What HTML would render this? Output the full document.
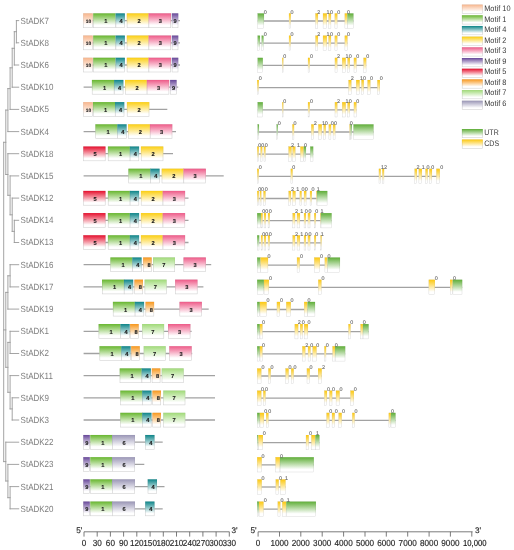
<!DOCTYPE html>
<html><head><meta charset="utf-8"><title>StADK motif and gene structure</title>
<style>html,body{margin:0;padding:0;background:#fff}svg{display:block}text{font-family:"Liberation Sans",sans-serif;text-rendering:geometricPrecision}</style></head><body>
<svg width="514" height="550" viewBox="0 0 514 550">
<defs>
<linearGradient id="m10" x1="0" y1="0" x2="0" y2="1"><stop offset="0" stop-color="#f7b58c"/><stop offset="0.82" stop-color="#f7b58c" stop-opacity="0"/><stop offset="1" stop-color="#f7b58c" stop-opacity="0"/></linearGradient>
<linearGradient id="m1" x1="0" y1="0" x2="0" y2="1"><stop offset="0" stop-color="#68b72f"/><stop offset="0.82" stop-color="#68b72f" stop-opacity="0"/><stop offset="1" stop-color="#68b72f" stop-opacity="0"/></linearGradient>
<linearGradient id="m4" x1="0" y1="0" x2="0" y2="1"><stop offset="0" stop-color="#0d8589"/><stop offset="0.82" stop-color="#0d8589" stop-opacity="0"/><stop offset="1" stop-color="#0d8589" stop-opacity="0"/></linearGradient>
<linearGradient id="m2" x1="0" y1="0" x2="0" y2="1"><stop offset="0" stop-color="#fccf12"/><stop offset="0.82" stop-color="#fccf12" stop-opacity="0"/><stop offset="1" stop-color="#fccf12" stop-opacity="0"/></linearGradient>
<linearGradient id="m3" x1="0" y1="0" x2="0" y2="1"><stop offset="0" stop-color="#ee5a88"/><stop offset="0.82" stop-color="#ee5a88" stop-opacity="0"/><stop offset="1" stop-color="#ee5a88" stop-opacity="0"/></linearGradient>
<linearGradient id="m9" x1="0" y1="0" x2="0" y2="1"><stop offset="0" stop-color="#68489a"/><stop offset="0.82" stop-color="#68489a" stop-opacity="0"/><stop offset="1" stop-color="#68489a" stop-opacity="0"/></linearGradient>
<linearGradient id="m5" x1="0" y1="0" x2="0" y2="1"><stop offset="0" stop-color="#e60f2d"/><stop offset="0.82" stop-color="#e60f2d" stop-opacity="0"/><stop offset="1" stop-color="#e60f2d" stop-opacity="0"/></linearGradient>
<linearGradient id="m8" x1="0" y1="0" x2="0" y2="1"><stop offset="0" stop-color="#f8981d"/><stop offset="0.82" stop-color="#f8981d" stop-opacity="0"/><stop offset="1" stop-color="#f8981d" stop-opacity="0"/></linearGradient>
<linearGradient id="m7" x1="0" y1="0" x2="0" y2="1"><stop offset="0" stop-color="#a0da78"/><stop offset="0.82" stop-color="#a0da78" stop-opacity="0"/><stop offset="1" stop-color="#a0da78" stop-opacity="0"/></linearGradient>
<linearGradient id="m6" x1="0" y1="0" x2="0" y2="1"><stop offset="0" stop-color="#9a96b6"/><stop offset="0.82" stop-color="#9a96b6" stop-opacity="0"/><stop offset="1" stop-color="#9a96b6" stop-opacity="0"/></linearGradient>
<linearGradient id="gU" x1="0" y1="0" x2="0" y2="1"><stop offset="0" stop-color="#5fae38"/><stop offset="0.82" stop-color="#5fae38" stop-opacity="0"/><stop offset="1" stop-color="#5fae38" stop-opacity="0"/></linearGradient>
<linearGradient id="gC" x1="0" y1="0" x2="0" y2="1"><stop offset="0" stop-color="#fcc810"/><stop offset="0.82" stop-color="#fcc810" stop-opacity="0"/><stop offset="1" stop-color="#fcc810" stop-opacity="0"/></linearGradient>
</defs>
<rect width="514" height="550" fill="#fff"/>
<g stroke="#9a9a9a" stroke-width="0.9" fill="none" stroke-linecap="square">
<line x1="16.4" y1="20.6" x2="18.7" y2="20.6"/>
<line x1="16.4" y1="42.8" x2="18.7" y2="42.8"/>
<line x1="16.4" y1="20.6" x2="16.4" y2="42.8"/>
<line x1="14.3" y1="31.7" x2="16.4" y2="31.7"/>
<line x1="14.3" y1="65.0" x2="18.7" y2="65.0"/>
<line x1="14.3" y1="31.7" x2="14.3" y2="65.0"/>
<line x1="12.2" y1="48.3" x2="14.3" y2="48.3"/>
<line x1="12.2" y1="87.2" x2="18.7" y2="87.2"/>
<line x1="12.2" y1="48.3" x2="12.2" y2="87.2"/>
<line x1="10.1" y1="67.8" x2="12.2" y2="67.8"/>
<line x1="10.1" y1="109.4" x2="18.7" y2="109.4"/>
<line x1="10.1" y1="67.8" x2="10.1" y2="109.4"/>
<line x1="7.9" y1="88.6" x2="10.1" y2="88.6"/>
<line x1="7.9" y1="131.6" x2="18.7" y2="131.6"/>
<line x1="7.9" y1="88.6" x2="7.9" y2="131.6"/>
<line x1="5.8" y1="110.1" x2="7.9" y2="110.1"/>
<line x1="7.9" y1="153.7" x2="18.7" y2="153.7"/>
<line x1="10.1" y1="175.9" x2="18.7" y2="175.9"/>
<line x1="12.2" y1="198.1" x2="18.7" y2="198.1"/>
<line x1="14.3" y1="220.3" x2="18.7" y2="220.3"/>
<line x1="14.3" y1="242.5" x2="18.7" y2="242.5"/>
<line x1="14.3" y1="220.3" x2="14.3" y2="242.5"/>
<line x1="12.2" y1="231.4" x2="14.3" y2="231.4"/>
<line x1="12.2" y1="198.1" x2="12.2" y2="231.4"/>
<line x1="10.1" y1="214.8" x2="12.2" y2="214.8"/>
<line x1="10.1" y1="175.9" x2="10.1" y2="214.8"/>
<line x1="7.9" y1="195.3" x2="10.1" y2="195.3"/>
<line x1="7.9" y1="153.7" x2="7.9" y2="195.3"/>
<line x1="5.8" y1="174.5" x2="7.9" y2="174.5"/>
<line x1="5.8" y1="110.1" x2="5.8" y2="174.5"/>
<line x1="3.7" y1="142.3" x2="5.8" y2="142.3"/>
<line x1="10.1" y1="264.7" x2="18.7" y2="264.7"/>
<line x1="10.1" y1="286.9" x2="18.7" y2="286.9"/>
<line x1="10.1" y1="264.7" x2="10.1" y2="286.9"/>
<line x1="7.9" y1="275.8" x2="10.1" y2="275.8"/>
<line x1="7.9" y1="309.1" x2="18.7" y2="309.1"/>
<line x1="7.9" y1="275.8" x2="7.9" y2="309.1"/>
<line x1="5.8" y1="292.4" x2="7.9" y2="292.4"/>
<line x1="10.1" y1="331.3" x2="18.7" y2="331.3"/>
<line x1="10.1" y1="353.5" x2="18.7" y2="353.5"/>
<line x1="10.1" y1="331.3" x2="10.1" y2="353.5"/>
<line x1="7.9" y1="342.4" x2="10.1" y2="342.4"/>
<line x1="10.1" y1="375.6" x2="18.7" y2="375.6"/>
<line x1="12.2" y1="397.8" x2="18.7" y2="397.8"/>
<line x1="12.2" y1="420.0" x2="18.7" y2="420.0"/>
<line x1="12.2" y1="397.8" x2="12.2" y2="420.0"/>
<line x1="10.1" y1="408.9" x2="12.2" y2="408.9"/>
<line x1="10.1" y1="375.6" x2="10.1" y2="408.9"/>
<line x1="7.9" y1="392.3" x2="10.1" y2="392.3"/>
<line x1="7.9" y1="342.4" x2="7.9" y2="392.3"/>
<line x1="5.8" y1="367.3" x2="7.9" y2="367.3"/>
<line x1="5.8" y1="292.4" x2="5.8" y2="367.3"/>
<line x1="3.7" y1="329.9" x2="5.8" y2="329.9"/>
<line x1="5.8" y1="442.2" x2="18.7" y2="442.2"/>
<line x1="7.9" y1="464.4" x2="18.7" y2="464.4"/>
<line x1="10.1" y1="486.6" x2="18.7" y2="486.6"/>
<line x1="10.1" y1="508.8" x2="18.7" y2="508.8"/>
<line x1="10.1" y1="486.6" x2="10.1" y2="508.8"/>
<line x1="7.9" y1="497.7" x2="10.1" y2="497.7"/>
<line x1="7.9" y1="464.4" x2="7.9" y2="497.7"/>
<line x1="5.8" y1="481.0" x2="7.9" y2="481.0"/>
<line x1="5.8" y1="442.2" x2="5.8" y2="481.0"/>
<line x1="3.7" y1="461.6" x2="5.8" y2="461.6"/>
<line x1="3.7" y1="142.3" x2="3.7" y2="461.6"/>
</g>
<g font-size="8" fill="#7d7d7d">
<text transform="translate(20.6,23.5) scale(1,1.12)">StADK7</text>
<text transform="translate(20.6,45.7) scale(1,1.12)">StADK8</text>
<text transform="translate(20.6,67.9) scale(1,1.12)">StADK6</text>
<text transform="translate(20.6,90.1) scale(1,1.12)">StADK10</text>
<text transform="translate(20.6,112.3) scale(1,1.12)">StADK5</text>
<text transform="translate(20.6,134.5) scale(1,1.12)">StADK4</text>
<text transform="translate(20.6,156.6) scale(1,1.12)">StADK18</text>
<text transform="translate(20.6,178.8) scale(1,1.12)">StADK15</text>
<text transform="translate(20.6,201.0) scale(1,1.12)">StADK12</text>
<text transform="translate(20.6,223.2) scale(1,1.12)">StADK14</text>
<text transform="translate(20.6,245.4) scale(1,1.12)">StADK13</text>
<text transform="translate(20.6,267.6) scale(1,1.12)">StADK16</text>
<text transform="translate(20.6,289.8) scale(1,1.12)">StADK17</text>
<text transform="translate(20.6,312.0) scale(1,1.12)">StADK19</text>
<text transform="translate(20.6,334.2) scale(1,1.12)">StADK1</text>
<text transform="translate(20.6,356.4) scale(1,1.12)">StADK2</text>
<text transform="translate(20.6,378.5) scale(1,1.12)">StADK11</text>
<text transform="translate(20.6,400.7) scale(1,1.12)">StADK9</text>
<text transform="translate(20.6,422.9) scale(1,1.12)">StADK3</text>
<text transform="translate(20.6,445.1) scale(1,1.12)">StADK22</text>
<text transform="translate(20.6,467.3) scale(1,1.12)">StADK23</text>
<text transform="translate(20.6,489.5) scale(1,1.12)">StADK21</text>
<text transform="translate(20.6,511.7) scale(1,1.12)">StADK20</text>
</g>
<g>
<line x1="83.6" y1="20.6" x2="180" y2="20.6" stroke="#a2a2a2" stroke-width="1.3"/>
<rect x="83.5" y="13.7" width="9.0" height="14.0" fill="#fff" stroke="#d2d2d2" stroke-width="0.6"/>
<rect x="83.20" y="13.35" width="9.60" height="14.3" fill="url(#m10)"/>
<text x="88.6" y="23.0" font-size="4.9" font-weight="bold" text-anchor="middle" fill="#1c1c1c" stroke="#1c1c1c" stroke-width="0.12">10</text>
<rect x="93.5" y="13.7" width="21.9" height="14.0" fill="#fff" stroke="#d2d2d2" stroke-width="0.6"/>
<rect x="93.20" y="13.35" width="22.50" height="14.3" fill="url(#m1)"/>
<text x="105.8" y="23.0" font-size="5.7" font-weight="bold" text-anchor="middle" fill="#1c1c1c" stroke="#1c1c1c" stroke-width="0.12">1</text>
<rect x="115.9" y="13.7" width="8.7" height="14.0" fill="#fff" stroke="#d2d2d2" stroke-width="0.6"/>
<rect x="115.60" y="13.35" width="9.30" height="14.3" fill="url(#m4)"/>
<text x="121.2" y="23.0" font-size="5.7" font-weight="bold" text-anchor="middle" fill="#1c1c1c" stroke="#1c1c1c" stroke-width="0.12">4</text>
<rect x="127.1" y="13.7" width="21.8" height="14.0" fill="#fff" stroke="#d2d2d2" stroke-width="0.6"/>
<rect x="126.80" y="13.35" width="22.40" height="14.3" fill="url(#m2)"/>
<text x="139.0" y="23.0" font-size="5.7" font-weight="bold" text-anchor="middle" fill="#1c1c1c" stroke="#1c1c1c" stroke-width="0.12">2</text>
<rect x="148.9" y="13.7" width="21.8" height="14.0" fill="#fff" stroke="#d2d2d2" stroke-width="0.6"/>
<rect x="148.60" y="13.35" width="22.40" height="14.3" fill="url(#m3)"/>
<text x="160.3" y="23.0" font-size="5.7" font-weight="bold" text-anchor="middle" fill="#1c1c1c" stroke="#1c1c1c" stroke-width="0.12">3</text>
<rect x="172.1" y="13.7" width="5.9" height="14.0" fill="#fff" stroke="#d2d2d2" stroke-width="0.6"/>
<rect x="171.80" y="13.35" width="6.50" height="14.3" fill="url(#m9)"/>
<text x="175.2" y="23.0" font-size="5.7" font-weight="bold" text-anchor="middle" fill="#1c1c1c" stroke="#1c1c1c" stroke-width="0.12">9</text>
<line x1="83.6" y1="42.8" x2="180" y2="42.8" stroke="#a2a2a2" stroke-width="1.3"/>
<rect x="83.5" y="35.8" width="9.0" height="14.0" fill="#fff" stroke="#d2d2d2" stroke-width="0.6"/>
<rect x="83.20" y="35.54" width="9.60" height="14.3" fill="url(#m10)"/>
<text x="88.6" y="45.2" font-size="4.9" font-weight="bold" text-anchor="middle" fill="#1c1c1c" stroke="#1c1c1c" stroke-width="0.12">10</text>
<rect x="93.5" y="35.8" width="21.9" height="14.0" fill="#fff" stroke="#d2d2d2" stroke-width="0.6"/>
<rect x="93.20" y="35.54" width="22.50" height="14.3" fill="url(#m1)"/>
<text x="105.8" y="45.2" font-size="5.7" font-weight="bold" text-anchor="middle" fill="#1c1c1c" stroke="#1c1c1c" stroke-width="0.12">1</text>
<rect x="115.9" y="35.8" width="8.7" height="14.0" fill="#fff" stroke="#d2d2d2" stroke-width="0.6"/>
<rect x="115.60" y="35.54" width="9.30" height="14.3" fill="url(#m4)"/>
<text x="121.2" y="45.2" font-size="5.7" font-weight="bold" text-anchor="middle" fill="#1c1c1c" stroke="#1c1c1c" stroke-width="0.12">4</text>
<rect x="127.1" y="35.8" width="21.8" height="14.0" fill="#fff" stroke="#d2d2d2" stroke-width="0.6"/>
<rect x="126.80" y="35.54" width="22.40" height="14.3" fill="url(#m2)"/>
<text x="139.0" y="45.2" font-size="5.7" font-weight="bold" text-anchor="middle" fill="#1c1c1c" stroke="#1c1c1c" stroke-width="0.12">2</text>
<rect x="148.9" y="35.8" width="21.8" height="14.0" fill="#fff" stroke="#d2d2d2" stroke-width="0.6"/>
<rect x="148.60" y="35.54" width="22.40" height="14.3" fill="url(#m3)"/>
<text x="160.3" y="45.2" font-size="5.7" font-weight="bold" text-anchor="middle" fill="#1c1c1c" stroke="#1c1c1c" stroke-width="0.12">3</text>
<rect x="172.1" y="35.8" width="5.9" height="14.0" fill="#fff" stroke="#d2d2d2" stroke-width="0.6"/>
<rect x="171.80" y="35.54" width="6.50" height="14.3" fill="url(#m9)"/>
<text x="175.2" y="45.2" font-size="5.7" font-weight="bold" text-anchor="middle" fill="#1c1c1c" stroke="#1c1c1c" stroke-width="0.12">9</text>
<line x1="83.6" y1="65.0" x2="180" y2="65.0" stroke="#a2a2a2" stroke-width="1.3"/>
<rect x="83.5" y="58.0" width="9.0" height="14.0" fill="#fff" stroke="#d2d2d2" stroke-width="0.6"/>
<rect x="83.20" y="57.73" width="9.60" height="14.3" fill="url(#m10)"/>
<text x="88.6" y="67.4" font-size="4.9" font-weight="bold" text-anchor="middle" fill="#1c1c1c" stroke="#1c1c1c" stroke-width="0.12">10</text>
<rect x="93.5" y="58.0" width="21.9" height="14.0" fill="#fff" stroke="#d2d2d2" stroke-width="0.6"/>
<rect x="93.20" y="57.73" width="22.50" height="14.3" fill="url(#m1)"/>
<text x="105.8" y="67.4" font-size="5.7" font-weight="bold" text-anchor="middle" fill="#1c1c1c" stroke="#1c1c1c" stroke-width="0.12">1</text>
<rect x="115.9" y="58.0" width="8.7" height="14.0" fill="#fff" stroke="#d2d2d2" stroke-width="0.6"/>
<rect x="115.60" y="57.73" width="9.30" height="14.3" fill="url(#m4)"/>
<text x="121.2" y="67.4" font-size="5.7" font-weight="bold" text-anchor="middle" fill="#1c1c1c" stroke="#1c1c1c" stroke-width="0.12">4</text>
<rect x="127.1" y="58.0" width="21.8" height="14.0" fill="#fff" stroke="#d2d2d2" stroke-width="0.6"/>
<rect x="126.80" y="57.73" width="22.40" height="14.3" fill="url(#m2)"/>
<text x="139.0" y="67.4" font-size="5.7" font-weight="bold" text-anchor="middle" fill="#1c1c1c" stroke="#1c1c1c" stroke-width="0.12">2</text>
<rect x="148.9" y="58.0" width="21.8" height="14.0" fill="#fff" stroke="#d2d2d2" stroke-width="0.6"/>
<rect x="148.60" y="57.73" width="22.40" height="14.3" fill="url(#m3)"/>
<text x="160.3" y="67.4" font-size="5.7" font-weight="bold" text-anchor="middle" fill="#1c1c1c" stroke="#1c1c1c" stroke-width="0.12">3</text>
<rect x="172.1" y="58.0" width="5.9" height="14.0" fill="#fff" stroke="#d2d2d2" stroke-width="0.6"/>
<rect x="171.80" y="57.73" width="6.50" height="14.3" fill="url(#m9)"/>
<text x="175.2" y="67.4" font-size="5.7" font-weight="bold" text-anchor="middle" fill="#1c1c1c" stroke="#1c1c1c" stroke-width="0.12">9</text>
<line x1="83.6" y1="87.2" x2="178.2" y2="87.2" stroke="#a2a2a2" stroke-width="1.3"/>
<rect x="92.2" y="80.2" width="21.9" height="14.0" fill="#fff" stroke="#d2d2d2" stroke-width="0.6"/>
<rect x="91.90" y="79.92" width="22.50" height="14.3" fill="url(#m1)"/>
<text x="104.5" y="89.6" font-size="5.7" font-weight="bold" text-anchor="middle" fill="#1c1c1c" stroke="#1c1c1c" stroke-width="0.12">1</text>
<rect x="114.4" y="80.2" width="8.7" height="14.0" fill="#fff" stroke="#d2d2d2" stroke-width="0.6"/>
<rect x="114.10" y="79.92" width="9.30" height="14.3" fill="url(#m4)"/>
<text x="119.7" y="89.6" font-size="5.7" font-weight="bold" text-anchor="middle" fill="#1c1c1c" stroke="#1c1c1c" stroke-width="0.12">4</text>
<rect x="125.3" y="80.2" width="21.8" height="14.0" fill="#fff" stroke="#d2d2d2" stroke-width="0.6"/>
<rect x="125.00" y="79.92" width="22.40" height="14.3" fill="url(#m2)"/>
<text x="137.2" y="89.6" font-size="5.7" font-weight="bold" text-anchor="middle" fill="#1c1c1c" stroke="#1c1c1c" stroke-width="0.12">2</text>
<rect x="147.1" y="80.2" width="21.8" height="14.0" fill="#fff" stroke="#d2d2d2" stroke-width="0.6"/>
<rect x="146.80" y="79.92" width="22.40" height="14.3" fill="url(#m3)"/>
<text x="158.5" y="89.6" font-size="5.7" font-weight="bold" text-anchor="middle" fill="#1c1c1c" stroke="#1c1c1c" stroke-width="0.12">3</text>
<rect x="170.4" y="80.2" width="5.9" height="14.0" fill="#fff" stroke="#d2d2d2" stroke-width="0.6"/>
<rect x="170.10" y="79.92" width="6.50" height="14.3" fill="url(#m9)"/>
<text x="173.5" y="89.6" font-size="5.7" font-weight="bold" text-anchor="middle" fill="#1c1c1c" stroke="#1c1c1c" stroke-width="0.12">9</text>
<line x1="83.6" y1="109.4" x2="167.3" y2="109.4" stroke="#a2a2a2" stroke-width="1.3"/>
<rect x="83.5" y="102.4" width="9.0" height="14.0" fill="#fff" stroke="#d2d2d2" stroke-width="0.6"/>
<rect x="83.20" y="102.11" width="9.60" height="14.3" fill="url(#m10)"/>
<text x="88.6" y="111.8" font-size="4.9" font-weight="bold" text-anchor="middle" fill="#1c1c1c" stroke="#1c1c1c" stroke-width="0.12">10</text>
<rect x="93.3" y="102.4" width="21.9" height="14.0" fill="#fff" stroke="#d2d2d2" stroke-width="0.6"/>
<rect x="93.00" y="102.11" width="22.50" height="14.3" fill="url(#m1)"/>
<text x="105.5" y="111.8" font-size="5.7" font-weight="bold" text-anchor="middle" fill="#1c1c1c" stroke="#1c1c1c" stroke-width="0.12">1</text>
<rect x="115.3" y="102.4" width="8.7" height="14.0" fill="#fff" stroke="#d2d2d2" stroke-width="0.6"/>
<rect x="115.00" y="102.11" width="9.30" height="14.3" fill="url(#m4)"/>
<text x="120.5" y="111.8" font-size="5.7" font-weight="bold" text-anchor="middle" fill="#1c1c1c" stroke="#1c1c1c" stroke-width="0.12">4</text>
<rect x="127.2" y="102.4" width="21.8" height="14.0" fill="#fff" stroke="#d2d2d2" stroke-width="0.6"/>
<rect x="126.90" y="102.11" width="22.40" height="14.3" fill="url(#m2)"/>
<text x="139.1" y="111.8" font-size="5.7" font-weight="bold" text-anchor="middle" fill="#1c1c1c" stroke="#1c1c1c" stroke-width="0.12">2</text>
<line x1="83.6" y1="131.6" x2="176" y2="131.6" stroke="#a2a2a2" stroke-width="1.3"/>
<rect x="95.7" y="124.6" width="21.9" height="14.0" fill="#fff" stroke="#d2d2d2" stroke-width="0.6"/>
<rect x="95.40" y="124.30" width="22.50" height="14.3" fill="url(#m1)"/>
<text x="108.0" y="134.0" font-size="5.7" font-weight="bold" text-anchor="middle" fill="#1c1c1c" stroke="#1c1c1c" stroke-width="0.12">1</text>
<rect x="117.6" y="124.6" width="8.7" height="14.0" fill="#fff" stroke="#d2d2d2" stroke-width="0.6"/>
<rect x="117.30" y="124.30" width="9.30" height="14.3" fill="url(#m4)"/>
<text x="122.8" y="134.0" font-size="5.7" font-weight="bold" text-anchor="middle" fill="#1c1c1c" stroke="#1c1c1c" stroke-width="0.12">4</text>
<rect x="128.4" y="124.6" width="21.8" height="14.0" fill="#fff" stroke="#d2d2d2" stroke-width="0.6"/>
<rect x="128.10" y="124.30" width="22.40" height="14.3" fill="url(#m2)"/>
<text x="140.3" y="134.0" font-size="5.7" font-weight="bold" text-anchor="middle" fill="#1c1c1c" stroke="#1c1c1c" stroke-width="0.12">2</text>
<rect x="150.2" y="124.6" width="21.8" height="14.0" fill="#fff" stroke="#d2d2d2" stroke-width="0.6"/>
<rect x="149.90" y="124.30" width="22.40" height="14.3" fill="url(#m3)"/>
<text x="161.6" y="134.0" font-size="5.7" font-weight="bold" text-anchor="middle" fill="#1c1c1c" stroke="#1c1c1c" stroke-width="0.12">3</text>
<line x1="83.6" y1="153.7" x2="173" y2="153.7" stroke="#a2a2a2" stroke-width="1.3"/>
<rect x="83.6" y="146.8" width="21.6" height="14.0" fill="#fff" stroke="#d2d2d2" stroke-width="0.6"/>
<rect x="83.30" y="146.49" width="22.20" height="14.3" fill="url(#m5)"/>
<text x="95.1" y="156.1" font-size="5.7" font-weight="bold" text-anchor="middle" fill="#1c1c1c" stroke="#1c1c1c" stroke-width="0.12">5</text>
<rect x="108.2" y="146.8" width="21.9" height="14.0" fill="#fff" stroke="#d2d2d2" stroke-width="0.6"/>
<rect x="107.90" y="146.49" width="22.50" height="14.3" fill="url(#m1)"/>
<text x="120.5" y="156.1" font-size="5.7" font-weight="bold" text-anchor="middle" fill="#1c1c1c" stroke="#1c1c1c" stroke-width="0.12">1</text>
<rect x="130.1" y="146.8" width="8.7" height="14.0" fill="#fff" stroke="#d2d2d2" stroke-width="0.6"/>
<rect x="129.80" y="146.49" width="9.30" height="14.3" fill="url(#m4)"/>
<text x="135.3" y="156.1" font-size="5.7" font-weight="bold" text-anchor="middle" fill="#1c1c1c" stroke="#1c1c1c" stroke-width="0.12">4</text>
<rect x="141.2" y="146.8" width="21.8" height="14.0" fill="#fff" stroke="#d2d2d2" stroke-width="0.6"/>
<rect x="140.90" y="146.49" width="22.40" height="14.3" fill="url(#m2)"/>
<text x="153.1" y="156.1" font-size="5.7" font-weight="bold" text-anchor="middle" fill="#1c1c1c" stroke="#1c1c1c" stroke-width="0.12">2</text>
<line x1="83.6" y1="175.9" x2="223.7" y2="175.9" stroke="#a2a2a2" stroke-width="1.3"/>
<rect x="128.7" y="169.0" width="21.9" height="14.0" fill="#fff" stroke="#d2d2d2" stroke-width="0.6"/>
<rect x="128.40" y="168.68" width="22.50" height="14.3" fill="url(#m1)"/>
<text x="140.9" y="178.3" font-size="5.7" font-weight="bold" text-anchor="middle" fill="#1c1c1c" stroke="#1c1c1c" stroke-width="0.12">1</text>
<rect x="150.6" y="169.0" width="8.7" height="14.0" fill="#fff" stroke="#d2d2d2" stroke-width="0.6"/>
<rect x="150.30" y="168.68" width="9.30" height="14.3" fill="url(#m4)"/>
<text x="155.8" y="178.3" font-size="5.7" font-weight="bold" text-anchor="middle" fill="#1c1c1c" stroke="#1c1c1c" stroke-width="0.12">4</text>
<rect x="162.0" y="169.0" width="21.8" height="14.0" fill="#fff" stroke="#d2d2d2" stroke-width="0.6"/>
<rect x="161.70" y="168.68" width="22.40" height="14.3" fill="url(#m2)"/>
<text x="173.9" y="178.3" font-size="5.7" font-weight="bold" text-anchor="middle" fill="#1c1c1c" stroke="#1c1c1c" stroke-width="0.12">2</text>
<rect x="183.8" y="169.0" width="21.8" height="14.0" fill="#fff" stroke="#d2d2d2" stroke-width="0.6"/>
<rect x="183.50" y="168.68" width="22.40" height="14.3" fill="url(#m3)"/>
<text x="195.2" y="178.3" font-size="5.7" font-weight="bold" text-anchor="middle" fill="#1c1c1c" stroke="#1c1c1c" stroke-width="0.12">3</text>
<line x1="83.6" y1="198.1" x2="188.5" y2="198.1" stroke="#a2a2a2" stroke-width="1.3"/>
<rect x="83.6" y="191.2" width="21.6" height="14.0" fill="#fff" stroke="#d2d2d2" stroke-width="0.6"/>
<rect x="83.30" y="190.87" width="22.20" height="14.3" fill="url(#m5)"/>
<text x="95.1" y="200.5" font-size="5.7" font-weight="bold" text-anchor="middle" fill="#1c1c1c" stroke="#1c1c1c" stroke-width="0.12">5</text>
<rect x="108.2" y="191.2" width="21.9" height="14.0" fill="#fff" stroke="#d2d2d2" stroke-width="0.6"/>
<rect x="107.90" y="190.87" width="22.50" height="14.3" fill="url(#m1)"/>
<text x="120.5" y="200.5" font-size="5.7" font-weight="bold" text-anchor="middle" fill="#1c1c1c" stroke="#1c1c1c" stroke-width="0.12">1</text>
<rect x="130.1" y="191.2" width="8.7" height="14.0" fill="#fff" stroke="#d2d2d2" stroke-width="0.6"/>
<rect x="129.80" y="190.87" width="9.30" height="14.3" fill="url(#m4)"/>
<text x="135.3" y="200.5" font-size="5.7" font-weight="bold" text-anchor="middle" fill="#1c1c1c" stroke="#1c1c1c" stroke-width="0.12">4</text>
<rect x="141.2" y="191.2" width="21.8" height="14.0" fill="#fff" stroke="#d2d2d2" stroke-width="0.6"/>
<rect x="140.90" y="190.87" width="22.40" height="14.3" fill="url(#m2)"/>
<text x="153.1" y="200.5" font-size="5.7" font-weight="bold" text-anchor="middle" fill="#1c1c1c" stroke="#1c1c1c" stroke-width="0.12">2</text>
<rect x="163.0" y="191.2" width="21.8" height="14.0" fill="#fff" stroke="#d2d2d2" stroke-width="0.6"/>
<rect x="162.70" y="190.87" width="22.40" height="14.3" fill="url(#m3)"/>
<text x="174.4" y="200.5" font-size="5.7" font-weight="bold" text-anchor="middle" fill="#1c1c1c" stroke="#1c1c1c" stroke-width="0.12">3</text>
<line x1="83.6" y1="220.3" x2="188.5" y2="220.3" stroke="#a2a2a2" stroke-width="1.3"/>
<rect x="83.6" y="213.4" width="21.6" height="14.0" fill="#fff" stroke="#d2d2d2" stroke-width="0.6"/>
<rect x="83.30" y="213.06" width="22.20" height="14.3" fill="url(#m5)"/>
<text x="95.1" y="222.7" font-size="5.7" font-weight="bold" text-anchor="middle" fill="#1c1c1c" stroke="#1c1c1c" stroke-width="0.12">5</text>
<rect x="108.2" y="213.4" width="21.9" height="14.0" fill="#fff" stroke="#d2d2d2" stroke-width="0.6"/>
<rect x="107.90" y="213.06" width="22.50" height="14.3" fill="url(#m1)"/>
<text x="120.5" y="222.7" font-size="5.7" font-weight="bold" text-anchor="middle" fill="#1c1c1c" stroke="#1c1c1c" stroke-width="0.12">1</text>
<rect x="130.1" y="213.4" width="8.7" height="14.0" fill="#fff" stroke="#d2d2d2" stroke-width="0.6"/>
<rect x="129.80" y="213.06" width="9.30" height="14.3" fill="url(#m4)"/>
<text x="135.3" y="222.7" font-size="5.7" font-weight="bold" text-anchor="middle" fill="#1c1c1c" stroke="#1c1c1c" stroke-width="0.12">4</text>
<rect x="141.2" y="213.4" width="21.8" height="14.0" fill="#fff" stroke="#d2d2d2" stroke-width="0.6"/>
<rect x="140.90" y="213.06" width="22.40" height="14.3" fill="url(#m2)"/>
<text x="153.1" y="222.7" font-size="5.7" font-weight="bold" text-anchor="middle" fill="#1c1c1c" stroke="#1c1c1c" stroke-width="0.12">2</text>
<rect x="163.0" y="213.4" width="21.8" height="14.0" fill="#fff" stroke="#d2d2d2" stroke-width="0.6"/>
<rect x="162.70" y="213.06" width="22.40" height="14.3" fill="url(#m3)"/>
<text x="174.4" y="222.7" font-size="5.7" font-weight="bold" text-anchor="middle" fill="#1c1c1c" stroke="#1c1c1c" stroke-width="0.12">3</text>
<line x1="83.6" y1="242.5" x2="188.5" y2="242.5" stroke="#a2a2a2" stroke-width="1.3"/>
<rect x="83.6" y="235.6" width="21.6" height="14.0" fill="#fff" stroke="#d2d2d2" stroke-width="0.6"/>
<rect x="83.30" y="235.25" width="22.20" height="14.3" fill="url(#m5)"/>
<text x="95.1" y="244.9" font-size="5.7" font-weight="bold" text-anchor="middle" fill="#1c1c1c" stroke="#1c1c1c" stroke-width="0.12">5</text>
<rect x="108.2" y="235.6" width="21.9" height="14.0" fill="#fff" stroke="#d2d2d2" stroke-width="0.6"/>
<rect x="107.90" y="235.25" width="22.50" height="14.3" fill="url(#m1)"/>
<text x="120.5" y="244.9" font-size="5.7" font-weight="bold" text-anchor="middle" fill="#1c1c1c" stroke="#1c1c1c" stroke-width="0.12">1</text>
<rect x="130.1" y="235.6" width="8.7" height="14.0" fill="#fff" stroke="#d2d2d2" stroke-width="0.6"/>
<rect x="129.80" y="235.25" width="9.30" height="14.3" fill="url(#m4)"/>
<text x="135.3" y="244.9" font-size="5.7" font-weight="bold" text-anchor="middle" fill="#1c1c1c" stroke="#1c1c1c" stroke-width="0.12">4</text>
<rect x="141.2" y="235.6" width="21.8" height="14.0" fill="#fff" stroke="#d2d2d2" stroke-width="0.6"/>
<rect x="140.90" y="235.25" width="22.40" height="14.3" fill="url(#m2)"/>
<text x="153.1" y="244.9" font-size="5.7" font-weight="bold" text-anchor="middle" fill="#1c1c1c" stroke="#1c1c1c" stroke-width="0.12">2</text>
<rect x="163.0" y="235.6" width="21.8" height="14.0" fill="#fff" stroke="#d2d2d2" stroke-width="0.6"/>
<rect x="162.70" y="235.25" width="22.40" height="14.3" fill="url(#m3)"/>
<text x="174.4" y="244.9" font-size="5.7" font-weight="bold" text-anchor="middle" fill="#1c1c1c" stroke="#1c1c1c" stroke-width="0.12">3</text>
<line x1="83.6" y1="264.7" x2="211.2" y2="264.7" stroke="#a2a2a2" stroke-width="1.3"/>
<rect x="110.7" y="257.7" width="21.9" height="14.0" fill="#fff" stroke="#d2d2d2" stroke-width="0.6"/>
<rect x="110.40" y="257.44" width="22.50" height="14.3" fill="url(#m1)"/>
<text x="123.0" y="267.1" font-size="5.7" font-weight="bold" text-anchor="middle" fill="#1c1c1c" stroke="#1c1c1c" stroke-width="0.12">1</text>
<rect x="132.6" y="257.7" width="8.7" height="14.0" fill="#fff" stroke="#d2d2d2" stroke-width="0.6"/>
<rect x="132.30" y="257.44" width="9.30" height="14.3" fill="url(#m4)"/>
<text x="137.8" y="267.1" font-size="5.7" font-weight="bold" text-anchor="middle" fill="#1c1c1c" stroke="#1c1c1c" stroke-width="0.12">4</text>
<rect x="143.4" y="257.7" width="8.0" height="14.0" fill="#fff" stroke="#d2d2d2" stroke-width="0.6"/>
<rect x="143.10" y="257.44" width="8.60" height="14.3" fill="url(#m8)"/>
<text x="149.0" y="267.1" font-size="5.7" font-weight="bold" text-anchor="middle" fill="#1c1c1c" stroke="#1c1c1c" stroke-width="0.12">8</text>
<rect x="153.3" y="257.7" width="21.4" height="14.0" fill="#fff" stroke="#d2d2d2" stroke-width="0.6"/>
<rect x="153.00" y="257.44" width="22.00" height="14.3" fill="url(#m7)"/>
<text x="163.8" y="267.1" font-size="5.7" font-weight="bold" text-anchor="middle" fill="#1c1c1c" stroke="#1c1c1c" stroke-width="0.12">7</text>
<rect x="183.8" y="257.7" width="21.8" height="14.0" fill="#fff" stroke="#d2d2d2" stroke-width="0.6"/>
<rect x="183.50" y="257.44" width="22.40" height="14.3" fill="url(#m3)"/>
<text x="195.2" y="267.1" font-size="5.7" font-weight="bold" text-anchor="middle" fill="#1c1c1c" stroke="#1c1c1c" stroke-width="0.12">3</text>
<line x1="83.6" y1="286.9" x2="203.4" y2="286.9" stroke="#a2a2a2" stroke-width="1.3"/>
<rect x="102.3" y="279.9" width="21.9" height="14.0" fill="#fff" stroke="#d2d2d2" stroke-width="0.6"/>
<rect x="102.00" y="279.63" width="22.50" height="14.3" fill="url(#m1)"/>
<text x="114.5" y="289.3" font-size="5.7" font-weight="bold" text-anchor="middle" fill="#1c1c1c" stroke="#1c1c1c" stroke-width="0.12">1</text>
<rect x="124.2" y="279.9" width="8.7" height="14.0" fill="#fff" stroke="#d2d2d2" stroke-width="0.6"/>
<rect x="123.90" y="279.63" width="9.30" height="14.3" fill="url(#m4)"/>
<text x="129.5" y="289.3" font-size="5.7" font-weight="bold" text-anchor="middle" fill="#1c1c1c" stroke="#1c1c1c" stroke-width="0.12">4</text>
<rect x="134.7" y="279.9" width="8.0" height="14.0" fill="#fff" stroke="#d2d2d2" stroke-width="0.6"/>
<rect x="134.40" y="279.63" width="8.60" height="14.3" fill="url(#m8)"/>
<text x="140.3" y="289.3" font-size="5.7" font-weight="bold" text-anchor="middle" fill="#1c1c1c" stroke="#1c1c1c" stroke-width="0.12">8</text>
<rect x="144.9" y="279.9" width="21.4" height="14.0" fill="#fff" stroke="#d2d2d2" stroke-width="0.6"/>
<rect x="144.60" y="279.63" width="22.00" height="14.3" fill="url(#m7)"/>
<text x="155.4" y="289.3" font-size="5.7" font-weight="bold" text-anchor="middle" fill="#1c1c1c" stroke="#1c1c1c" stroke-width="0.12">7</text>
<rect x="175.4" y="279.9" width="21.8" height="14.0" fill="#fff" stroke="#d2d2d2" stroke-width="0.6"/>
<rect x="175.10" y="279.63" width="22.40" height="14.3" fill="url(#m3)"/>
<text x="186.8" y="289.3" font-size="5.7" font-weight="bold" text-anchor="middle" fill="#1c1c1c" stroke="#1c1c1c" stroke-width="0.12">3</text>
<line x1="83.6" y1="309.1" x2="208.7" y2="309.1" stroke="#a2a2a2" stroke-width="1.3"/>
<rect x="113.2" y="302.1" width="21.9" height="14.0" fill="#fff" stroke="#d2d2d2" stroke-width="0.6"/>
<rect x="112.90" y="301.82" width="22.50" height="14.3" fill="url(#m1)"/>
<text x="125.5" y="311.5" font-size="5.7" font-weight="bold" text-anchor="middle" fill="#1c1c1c" stroke="#1c1c1c" stroke-width="0.12">1</text>
<rect x="135.1" y="302.1" width="8.7" height="14.0" fill="#fff" stroke="#d2d2d2" stroke-width="0.6"/>
<rect x="134.80" y="301.82" width="9.30" height="14.3" fill="url(#m4)"/>
<text x="140.3" y="311.5" font-size="5.7" font-weight="bold" text-anchor="middle" fill="#1c1c1c" stroke="#1c1c1c" stroke-width="0.12">4</text>
<rect x="145.8" y="302.1" width="8.0" height="14.0" fill="#fff" stroke="#d2d2d2" stroke-width="0.6"/>
<rect x="145.50" y="301.82" width="8.60" height="14.3" fill="url(#m8)"/>
<text x="151.4" y="311.5" font-size="5.7" font-weight="bold" text-anchor="middle" fill="#1c1c1c" stroke="#1c1c1c" stroke-width="0.12">8</text>
<rect x="179.8" y="302.1" width="21.8" height="14.0" fill="#fff" stroke="#d2d2d2" stroke-width="0.6"/>
<rect x="179.50" y="301.82" width="22.40" height="14.3" fill="url(#m3)"/>
<text x="191.2" y="311.5" font-size="5.7" font-weight="bold" text-anchor="middle" fill="#1c1c1c" stroke="#1c1c1c" stroke-width="0.12">3</text>
<line x1="83.6" y1="331.3" x2="191.6" y2="331.3" stroke="#a2a2a2" stroke-width="1.3"/>
<rect x="98.9" y="324.3" width="21.9" height="14.0" fill="#fff" stroke="#d2d2d2" stroke-width="0.6"/>
<rect x="98.60" y="324.01" width="22.50" height="14.3" fill="url(#m1)"/>
<text x="111.2" y="333.7" font-size="5.7" font-weight="bold" text-anchor="middle" fill="#1c1c1c" stroke="#1c1c1c" stroke-width="0.12">1</text>
<rect x="120.7" y="324.3" width="8.7" height="14.0" fill="#fff" stroke="#d2d2d2" stroke-width="0.6"/>
<rect x="120.40" y="324.01" width="9.30" height="14.3" fill="url(#m4)"/>
<text x="126.0" y="333.7" font-size="5.7" font-weight="bold" text-anchor="middle" fill="#1c1c1c" stroke="#1c1c1c" stroke-width="0.12">4</text>
<rect x="130.4" y="324.3" width="8.0" height="14.0" fill="#fff" stroke="#d2d2d2" stroke-width="0.6"/>
<rect x="130.10" y="324.01" width="8.60" height="14.3" fill="url(#m8)"/>
<text x="136.0" y="333.7" font-size="5.7" font-weight="bold" text-anchor="middle" fill="#1c1c1c" stroke="#1c1c1c" stroke-width="0.12">8</text>
<rect x="142.4" y="324.3" width="21.4" height="14.0" fill="#fff" stroke="#d2d2d2" stroke-width="0.6"/>
<rect x="142.10" y="324.01" width="22.00" height="14.3" fill="url(#m7)"/>
<text x="152.9" y="333.7" font-size="5.7" font-weight="bold" text-anchor="middle" fill="#1c1c1c" stroke="#1c1c1c" stroke-width="0.12">7</text>
<rect x="168.3" y="324.3" width="21.8" height="14.0" fill="#fff" stroke="#d2d2d2" stroke-width="0.6"/>
<rect x="168.00" y="324.01" width="22.40" height="14.3" fill="url(#m3)"/>
<text x="179.7" y="333.7" font-size="5.7" font-weight="bold" text-anchor="middle" fill="#1c1c1c" stroke="#1c1c1c" stroke-width="0.12">3</text>
<line x1="83.6" y1="353.5" x2="192.2" y2="353.5" stroke="#a2a2a2" stroke-width="1.3"/>
<rect x="99.8" y="346.5" width="21.9" height="14.0" fill="#fff" stroke="#d2d2d2" stroke-width="0.6"/>
<rect x="99.50" y="346.20" width="22.50" height="14.3" fill="url(#m1)"/>
<text x="112.0" y="355.9" font-size="5.7" font-weight="bold" text-anchor="middle" fill="#1c1c1c" stroke="#1c1c1c" stroke-width="0.12">1</text>
<rect x="121.6" y="346.5" width="8.7" height="14.0" fill="#fff" stroke="#d2d2d2" stroke-width="0.6"/>
<rect x="121.30" y="346.20" width="9.30" height="14.3" fill="url(#m4)"/>
<text x="126.8" y="355.9" font-size="5.7" font-weight="bold" text-anchor="middle" fill="#1c1c1c" stroke="#1c1c1c" stroke-width="0.12">4</text>
<rect x="131.5" y="346.5" width="8.0" height="14.0" fill="#fff" stroke="#d2d2d2" stroke-width="0.6"/>
<rect x="131.20" y="346.20" width="8.60" height="14.3" fill="url(#m8)"/>
<text x="137.1" y="355.9" font-size="5.7" font-weight="bold" text-anchor="middle" fill="#1c1c1c" stroke="#1c1c1c" stroke-width="0.12">8</text>
<rect x="144.0" y="346.5" width="21.4" height="14.0" fill="#fff" stroke="#d2d2d2" stroke-width="0.6"/>
<rect x="143.70" y="346.20" width="22.00" height="14.3" fill="url(#m7)"/>
<text x="154.5" y="355.9" font-size="5.7" font-weight="bold" text-anchor="middle" fill="#1c1c1c" stroke="#1c1c1c" stroke-width="0.12">7</text>
<rect x="169.6" y="346.5" width="21.8" height="14.0" fill="#fff" stroke="#d2d2d2" stroke-width="0.6"/>
<rect x="169.30" y="346.20" width="22.40" height="14.3" fill="url(#m3)"/>
<text x="181.0" y="355.9" font-size="5.7" font-weight="bold" text-anchor="middle" fill="#1c1c1c" stroke="#1c1c1c" stroke-width="0.12">3</text>
<line x1="83.6" y1="375.6" x2="215" y2="375.6" stroke="#a2a2a2" stroke-width="1.3"/>
<rect x="120.0" y="368.7" width="21.9" height="14.0" fill="#fff" stroke="#d2d2d2" stroke-width="0.6"/>
<rect x="119.70" y="368.39" width="22.50" height="14.3" fill="url(#m1)"/>
<text x="132.2" y="378.0" font-size="5.7" font-weight="bold" text-anchor="middle" fill="#1c1c1c" stroke="#1c1c1c" stroke-width="0.12">1</text>
<rect x="141.9" y="368.7" width="8.7" height="14.0" fill="#fff" stroke="#d2d2d2" stroke-width="0.6"/>
<rect x="141.60" y="368.39" width="9.30" height="14.3" fill="url(#m4)"/>
<text x="147.2" y="378.0" font-size="5.7" font-weight="bold" text-anchor="middle" fill="#1c1c1c" stroke="#1c1c1c" stroke-width="0.12">4</text>
<rect x="152.1" y="368.7" width="8.0" height="14.0" fill="#fff" stroke="#d2d2d2" stroke-width="0.6"/>
<rect x="151.80" y="368.39" width="8.60" height="14.3" fill="url(#m8)"/>
<text x="157.7" y="378.0" font-size="5.7" font-weight="bold" text-anchor="middle" fill="#1c1c1c" stroke="#1c1c1c" stroke-width="0.12">8</text>
<rect x="162.0" y="368.7" width="21.4" height="14.0" fill="#fff" stroke="#d2d2d2" stroke-width="0.6"/>
<rect x="161.70" y="368.39" width="22.00" height="14.3" fill="url(#m7)"/>
<text x="172.5" y="378.0" font-size="5.7" font-weight="bold" text-anchor="middle" fill="#1c1c1c" stroke="#1c1c1c" stroke-width="0.12">7</text>
<line x1="83.6" y1="397.8" x2="215" y2="397.8" stroke="#a2a2a2" stroke-width="1.3"/>
<rect x="120.6" y="390.9" width="21.9" height="14.0" fill="#fff" stroke="#d2d2d2" stroke-width="0.6"/>
<rect x="120.30" y="390.58" width="22.50" height="14.3" fill="url(#m1)"/>
<text x="132.8" y="400.2" font-size="5.7" font-weight="bold" text-anchor="middle" fill="#1c1c1c" stroke="#1c1c1c" stroke-width="0.12">1</text>
<rect x="142.5" y="390.9" width="8.7" height="14.0" fill="#fff" stroke="#d2d2d2" stroke-width="0.6"/>
<rect x="142.20" y="390.58" width="9.30" height="14.3" fill="url(#m4)"/>
<text x="147.8" y="400.2" font-size="5.7" font-weight="bold" text-anchor="middle" fill="#1c1c1c" stroke="#1c1c1c" stroke-width="0.12">4</text>
<rect x="152.7" y="390.9" width="8.0" height="14.0" fill="#fff" stroke="#d2d2d2" stroke-width="0.6"/>
<rect x="152.40" y="390.58" width="8.60" height="14.3" fill="url(#m8)"/>
<text x="158.3" y="400.2" font-size="5.7" font-weight="bold" text-anchor="middle" fill="#1c1c1c" stroke="#1c1c1c" stroke-width="0.12">8</text>
<rect x="163.6" y="390.9" width="21.4" height="14.0" fill="#fff" stroke="#d2d2d2" stroke-width="0.6"/>
<rect x="163.30" y="390.58" width="22.00" height="14.3" fill="url(#m7)"/>
<text x="174.1" y="400.2" font-size="5.7" font-weight="bold" text-anchor="middle" fill="#1c1c1c" stroke="#1c1c1c" stroke-width="0.12">7</text>
<line x1="83.6" y1="420.0" x2="215" y2="420.0" stroke="#a2a2a2" stroke-width="1.3"/>
<rect x="120.6" y="413.1" width="21.9" height="14.0" fill="#fff" stroke="#d2d2d2" stroke-width="0.6"/>
<rect x="120.30" y="412.77" width="22.50" height="14.3" fill="url(#m1)"/>
<text x="132.8" y="422.4" font-size="5.7" font-weight="bold" text-anchor="middle" fill="#1c1c1c" stroke="#1c1c1c" stroke-width="0.12">1</text>
<rect x="142.5" y="413.1" width="8.7" height="14.0" fill="#fff" stroke="#d2d2d2" stroke-width="0.6"/>
<rect x="142.20" y="412.77" width="9.30" height="14.3" fill="url(#m4)"/>
<text x="147.8" y="422.4" font-size="5.7" font-weight="bold" text-anchor="middle" fill="#1c1c1c" stroke="#1c1c1c" stroke-width="0.12">4</text>
<rect x="152.7" y="413.1" width="8.0" height="14.0" fill="#fff" stroke="#d2d2d2" stroke-width="0.6"/>
<rect x="152.40" y="412.77" width="8.60" height="14.3" fill="url(#m8)"/>
<text x="158.3" y="422.4" font-size="5.7" font-weight="bold" text-anchor="middle" fill="#1c1c1c" stroke="#1c1c1c" stroke-width="0.12">8</text>
<rect x="163.6" y="413.1" width="21.4" height="14.0" fill="#fff" stroke="#d2d2d2" stroke-width="0.6"/>
<rect x="163.30" y="412.77" width="22.00" height="14.3" fill="url(#m7)"/>
<text x="174.1" y="422.4" font-size="5.7" font-weight="bold" text-anchor="middle" fill="#1c1c1c" stroke="#1c1c1c" stroke-width="0.12">7</text>
<line x1="83.6" y1="442.2" x2="162.7" y2="442.2" stroke="#a2a2a2" stroke-width="1.3"/>
<rect x="83.6" y="435.3" width="5.9" height="14.0" fill="#fff" stroke="#d2d2d2" stroke-width="0.6"/>
<rect x="83.30" y="434.96" width="6.50" height="14.3" fill="url(#m9)"/>
<text x="86.8" y="444.6" font-size="5.7" font-weight="bold" text-anchor="middle" fill="#1c1c1c" stroke="#1c1c1c" stroke-width="0.12">9</text>
<rect x="90.6" y="435.3" width="21.9" height="14.0" fill="#fff" stroke="#d2d2d2" stroke-width="0.6"/>
<rect x="90.30" y="434.96" width="22.50" height="14.3" fill="url(#m1)"/>
<text x="102.8" y="444.6" font-size="5.7" font-weight="bold" text-anchor="middle" fill="#1c1c1c" stroke="#1c1c1c" stroke-width="0.12">1</text>
<rect x="112.3" y="435.3" width="22.4" height="14.0" fill="#fff" stroke="#d2d2d2" stroke-width="0.6"/>
<rect x="112.00" y="434.96" width="23.00" height="14.3" fill="url(#m6)"/>
<text x="124.0" y="444.6" font-size="5.7" font-weight="bold" text-anchor="middle" fill="#1c1c1c" stroke="#1c1c1c" stroke-width="0.12">6</text>
<rect x="145.5" y="435.3" width="8.7" height="14.0" fill="#fff" stroke="#d2d2d2" stroke-width="0.6"/>
<rect x="145.20" y="434.96" width="9.30" height="14.3" fill="url(#m4)"/>
<text x="150.8" y="444.6" font-size="5.7" font-weight="bold" text-anchor="middle" fill="#1c1c1c" stroke="#1c1c1c" stroke-width="0.12">4</text>
<line x1="83.6" y1="464.4" x2="144.3" y2="464.4" stroke="#a2a2a2" stroke-width="1.3"/>
<rect x="83.6" y="457.5" width="5.9" height="14.0" fill="#fff" stroke="#d2d2d2" stroke-width="0.6"/>
<rect x="83.30" y="457.15" width="6.50" height="14.3" fill="url(#m9)"/>
<text x="86.8" y="466.8" font-size="5.7" font-weight="bold" text-anchor="middle" fill="#1c1c1c" stroke="#1c1c1c" stroke-width="0.12">9</text>
<rect x="90.6" y="457.5" width="21.9" height="14.0" fill="#fff" stroke="#d2d2d2" stroke-width="0.6"/>
<rect x="90.30" y="457.15" width="22.50" height="14.3" fill="url(#m1)"/>
<text x="102.8" y="466.8" font-size="5.7" font-weight="bold" text-anchor="middle" fill="#1c1c1c" stroke="#1c1c1c" stroke-width="0.12">1</text>
<rect x="112.3" y="457.5" width="22.4" height="14.0" fill="#fff" stroke="#d2d2d2" stroke-width="0.6"/>
<rect x="112.00" y="457.15" width="23.00" height="14.3" fill="url(#m6)"/>
<text x="124.0" y="466.8" font-size="5.7" font-weight="bold" text-anchor="middle" fill="#1c1c1c" stroke="#1c1c1c" stroke-width="0.12">6</text>
<line x1="83.6" y1="486.6" x2="164.5" y2="486.6" stroke="#a2a2a2" stroke-width="1.3"/>
<rect x="83.6" y="479.6" width="5.9" height="14.0" fill="#fff" stroke="#d2d2d2" stroke-width="0.6"/>
<rect x="83.30" y="479.34" width="6.50" height="14.3" fill="url(#m9)"/>
<text x="86.8" y="489.0" font-size="5.7" font-weight="bold" text-anchor="middle" fill="#1c1c1c" stroke="#1c1c1c" stroke-width="0.12">9</text>
<rect x="90.6" y="479.6" width="21.9" height="14.0" fill="#fff" stroke="#d2d2d2" stroke-width="0.6"/>
<rect x="90.30" y="479.34" width="22.50" height="14.3" fill="url(#m1)"/>
<text x="102.8" y="489.0" font-size="5.7" font-weight="bold" text-anchor="middle" fill="#1c1c1c" stroke="#1c1c1c" stroke-width="0.12">1</text>
<rect x="112.3" y="479.6" width="22.4" height="14.0" fill="#fff" stroke="#d2d2d2" stroke-width="0.6"/>
<rect x="112.00" y="479.34" width="23.00" height="14.3" fill="url(#m6)"/>
<text x="124.0" y="489.0" font-size="5.7" font-weight="bold" text-anchor="middle" fill="#1c1c1c" stroke="#1c1c1c" stroke-width="0.12">6</text>
<rect x="148.0" y="479.6" width="8.7" height="14.0" fill="#fff" stroke="#d2d2d2" stroke-width="0.6"/>
<rect x="147.70" y="479.34" width="9.30" height="14.3" fill="url(#m4)"/>
<text x="153.2" y="489.0" font-size="5.7" font-weight="bold" text-anchor="middle" fill="#1c1c1c" stroke="#1c1c1c" stroke-width="0.12">4</text>
<line x1="83.6" y1="508.8" x2="162.7" y2="508.8" stroke="#a2a2a2" stroke-width="1.3"/>
<rect x="83.6" y="501.8" width="5.9" height="14.0" fill="#fff" stroke="#d2d2d2" stroke-width="0.6"/>
<rect x="83.30" y="501.53" width="6.50" height="14.3" fill="url(#m9)"/>
<text x="86.8" y="511.2" font-size="5.7" font-weight="bold" text-anchor="middle" fill="#1c1c1c" stroke="#1c1c1c" stroke-width="0.12">9</text>
<rect x="90.6" y="501.8" width="21.9" height="14.0" fill="#fff" stroke="#d2d2d2" stroke-width="0.6"/>
<rect x="90.30" y="501.53" width="22.50" height="14.3" fill="url(#m1)"/>
<text x="102.8" y="511.2" font-size="5.7" font-weight="bold" text-anchor="middle" fill="#1c1c1c" stroke="#1c1c1c" stroke-width="0.12">1</text>
<rect x="112.3" y="501.8" width="22.4" height="14.0" fill="#fff" stroke="#d2d2d2" stroke-width="0.6"/>
<rect x="112.00" y="501.53" width="23.00" height="14.3" fill="url(#m6)"/>
<text x="124.0" y="511.2" font-size="5.7" font-weight="bold" text-anchor="middle" fill="#1c1c1c" stroke="#1c1c1c" stroke-width="0.12">6</text>
<rect x="145.5" y="501.8" width="8.7" height="14.0" fill="#fff" stroke="#d2d2d2" stroke-width="0.6"/>
<rect x="145.20" y="501.53" width="9.30" height="14.3" fill="url(#m4)"/>
<text x="150.8" y="511.2" font-size="5.7" font-weight="bold" text-anchor="middle" fill="#1c1c1c" stroke="#1c1c1c" stroke-width="0.12">4</text>
</g>
<g>
<line x1="257.7" y1="21.0" x2="353.4" y2="21.0" stroke="#a2a2a2" stroke-width="1.3"/>
<rect x="257.8" y="13.6" width="6.0" height="14.6" fill="#fff" stroke="#d2d2d2" stroke-width="0.4"/>
<rect x="257.65" y="13.40" width="6.40" height="14.799999999999999" fill="url(#gU)"/>
<rect x="289.1" y="13.6" width="1.5" height="14.6" fill="#fff" stroke="#d2d2d2" stroke-width="0.4"/>
<rect x="288.95" y="13.40" width="1.90" height="14.799999999999999" fill="url(#gC)"/>
<rect x="315.6" y="13.6" width="2.2" height="14.6" fill="#fff" stroke="#d2d2d2" stroke-width="0.4"/>
<rect x="315.45" y="13.40" width="2.60" height="14.799999999999999" fill="url(#gC)"/>
<rect x="323.1" y="13.6" width="3.5" height="14.6" fill="#fff" stroke="#d2d2d2" stroke-width="0.4"/>
<rect x="322.95" y="13.40" width="3.90" height="14.799999999999999" fill="url(#gC)"/>
<rect x="328.8" y="13.6" width="2.1" height="14.6" fill="#fff" stroke="#d2d2d2" stroke-width="0.4"/>
<rect x="328.55" y="13.40" width="2.50" height="14.799999999999999" fill="url(#gC)"/>
<rect x="334.9" y="13.6" width="2.2" height="14.6" fill="#fff" stroke="#d2d2d2" stroke-width="0.4"/>
<rect x="334.75" y="13.40" width="2.60" height="14.799999999999999" fill="url(#gC)"/>
<rect x="344.9" y="13.6" width="2.3" height="14.6" fill="#fff" stroke="#d2d2d2" stroke-width="0.4"/>
<rect x="344.75" y="13.40" width="2.70" height="14.799999999999999" fill="url(#gC)"/>
<rect x="347.5" y="13.6" width="5.7" height="14.6" fill="#fff" stroke="#d2d2d2" stroke-width="0.4"/>
<rect x="347.35" y="13.40" width="6.10" height="14.799999999999999" fill="url(#gU)"/>
<text x="265.2" y="13.7" font-size="5.4" font-family="DejaVu Sans, sans-serif" text-anchor="middle" fill="#666" stroke="#666" stroke-width="0.1">0</text>
<text x="292.0" y="13.7" font-size="5.4" font-family="DejaVu Sans, sans-serif" text-anchor="middle" fill="#666" stroke="#666" stroke-width="0.1">0</text>
<text x="318.8" y="13.7" font-size="5.4" font-family="DejaVu Sans, sans-serif" text-anchor="middle" fill="#666" stroke="#666" stroke-width="0.1">2</text>
<text x="328.0" y="13.7" font-size="5.4" font-family="DejaVu Sans, sans-serif" text-anchor="middle" fill="#666" stroke="#666" stroke-width="0.1">1</text>
<text x="331.6" y="13.7" font-size="5.4" font-family="DejaVu Sans, sans-serif" text-anchor="middle" fill="#666" stroke="#666" stroke-width="0.1">0</text>
<text x="338.7" y="13.7" font-size="5.4" font-family="DejaVu Sans, sans-serif" text-anchor="middle" fill="#666" stroke="#666" stroke-width="0.1">0</text>
<text x="348.6" y="13.7" font-size="5.4" font-family="DejaVu Sans, sans-serif" text-anchor="middle" fill="#666" stroke="#666" stroke-width="0.1">0</text>
<line x1="257.7" y1="43.2" x2="347.4" y2="43.2" stroke="#a2a2a2" stroke-width="1.3"/>
<rect x="257.8" y="35.8" width="2.0" height="14.6" fill="#fff" stroke="#d2d2d2" stroke-width="0.4"/>
<rect x="257.65" y="35.59" width="2.40" height="14.799999999999999" fill="url(#gU)"/>
<rect x="261.8" y="35.8" width="1.5" height="14.6" fill="#fff" stroke="#d2d2d2" stroke-width="0.4"/>
<rect x="261.65" y="35.59" width="1.90" height="14.799999999999999" fill="url(#gU)"/>
<rect x="289.1" y="35.8" width="1.5" height="14.6" fill="#fff" stroke="#d2d2d2" stroke-width="0.4"/>
<rect x="288.95" y="35.59" width="1.90" height="14.799999999999999" fill="url(#gC)"/>
<rect x="315.6" y="35.8" width="2.2" height="14.6" fill="#fff" stroke="#d2d2d2" stroke-width="0.4"/>
<rect x="315.45" y="35.59" width="2.60" height="14.799999999999999" fill="url(#gC)"/>
<rect x="323.1" y="35.8" width="3.5" height="14.6" fill="#fff" stroke="#d2d2d2" stroke-width="0.4"/>
<rect x="322.95" y="35.59" width="3.90" height="14.799999999999999" fill="url(#gC)"/>
<rect x="328.8" y="35.8" width="2.1" height="14.6" fill="#fff" stroke="#d2d2d2" stroke-width="0.4"/>
<rect x="328.55" y="35.59" width="2.50" height="14.799999999999999" fill="url(#gC)"/>
<rect x="334.9" y="35.8" width="2.2" height="14.6" fill="#fff" stroke="#d2d2d2" stroke-width="0.4"/>
<rect x="334.75" y="35.59" width="2.60" height="14.799999999999999" fill="url(#gC)"/>
<rect x="344.9" y="35.8" width="2.3" height="14.6" fill="#fff" stroke="#d2d2d2" stroke-width="0.4"/>
<rect x="344.75" y="35.59" width="2.70" height="14.799999999999999" fill="url(#gC)"/>
<text x="265.2" y="35.9" font-size="5.4" font-family="DejaVu Sans, sans-serif" text-anchor="middle" fill="#666" stroke="#666" stroke-width="0.1">0</text>
<text x="292.0" y="35.9" font-size="5.4" font-family="DejaVu Sans, sans-serif" text-anchor="middle" fill="#666" stroke="#666" stroke-width="0.1">0</text>
<text x="318.8" y="35.9" font-size="5.4" font-family="DejaVu Sans, sans-serif" text-anchor="middle" fill="#666" stroke="#666" stroke-width="0.1">2</text>
<text x="328.0" y="35.9" font-size="5.4" font-family="DejaVu Sans, sans-serif" text-anchor="middle" fill="#666" stroke="#666" stroke-width="0.1">1</text>
<text x="331.6" y="35.9" font-size="5.4" font-family="DejaVu Sans, sans-serif" text-anchor="middle" fill="#666" stroke="#666" stroke-width="0.1">0</text>
<text x="338.7" y="35.9" font-size="5.4" font-family="DejaVu Sans, sans-serif" text-anchor="middle" fill="#666" stroke="#666" stroke-width="0.1">0</text>
<text x="348.6" y="35.9" font-size="5.4" font-family="DejaVu Sans, sans-serif" text-anchor="middle" fill="#666" stroke="#666" stroke-width="0.1">0</text>
<line x1="257.7" y1="65.4" x2="366.2" y2="65.4" stroke="#a2a2a2" stroke-width="1.3"/>
<rect x="257.8" y="58.0" width="4.8" height="14.6" fill="#fff" stroke="#d2d2d2" stroke-width="0.4"/>
<rect x="257.65" y="57.78" width="5.20" height="14.799999999999999" fill="url(#gU)"/>
<rect x="282.4" y="58.0" width="0.7" height="14.6" fill="#fff" stroke="#d2d2d2" stroke-width="0.4"/>
<rect x="282.25" y="57.78" width="1.10" height="14.799999999999999" fill="url(#gC)"/>
<rect x="308.1" y="58.0" width="1.5" height="14.6" fill="#fff" stroke="#d2d2d2" stroke-width="0.4"/>
<rect x="307.95" y="57.78" width="1.90" height="14.799999999999999" fill="url(#gC)"/>
<rect x="335.0" y="58.0" width="2.1" height="14.6" fill="#fff" stroke="#d2d2d2" stroke-width="0.4"/>
<rect x="334.85" y="57.78" width="2.50" height="14.799999999999999" fill="url(#gC)"/>
<rect x="342.3" y="58.0" width="3.2" height="14.6" fill="#fff" stroke="#d2d2d2" stroke-width="0.4"/>
<rect x="342.15" y="57.78" width="3.60" height="14.799999999999999" fill="url(#gC)"/>
<rect x="347.8" y="58.0" width="2.0" height="14.6" fill="#fff" stroke="#d2d2d2" stroke-width="0.4"/>
<rect x="347.55" y="57.78" width="2.40" height="14.799999999999999" fill="url(#gC)"/>
<rect x="354.0" y="58.0" width="2.2" height="14.6" fill="#fff" stroke="#d2d2d2" stroke-width="0.4"/>
<rect x="353.85" y="57.78" width="2.60" height="14.799999999999999" fill="url(#gC)"/>
<rect x="363.8" y="58.0" width="2.3" height="14.6" fill="#fff" stroke="#d2d2d2" stroke-width="0.4"/>
<rect x="363.55" y="57.78" width="2.70" height="14.799999999999999" fill="url(#gC)"/>
<text x="284.7" y="58.1" font-size="5.4" font-family="DejaVu Sans, sans-serif" text-anchor="middle" fill="#666" stroke="#666" stroke-width="0.1">0</text>
<text x="311.6" y="58.1" font-size="5.4" font-family="DejaVu Sans, sans-serif" text-anchor="middle" fill="#666" stroke="#666" stroke-width="0.1">0</text>
<text x="338.6" y="58.1" font-size="5.4" font-family="DejaVu Sans, sans-serif" text-anchor="middle" fill="#666" stroke="#666" stroke-width="0.1">2</text>
<text x="346.9" y="58.1" font-size="5.4" font-family="DejaVu Sans, sans-serif" text-anchor="middle" fill="#666" stroke="#666" stroke-width="0.1">1</text>
<text x="350.2" y="58.1" font-size="5.4" font-family="DejaVu Sans, sans-serif" text-anchor="middle" fill="#666" stroke="#666" stroke-width="0.1">0</text>
<text x="357.7" y="58.1" font-size="5.4" font-family="DejaVu Sans, sans-serif" text-anchor="middle" fill="#666" stroke="#666" stroke-width="0.1">0</text>
<text x="367.7" y="58.1" font-size="5.4" font-family="DejaVu Sans, sans-serif" text-anchor="middle" fill="#666" stroke="#666" stroke-width="0.1">0</text>
<line x1="257.2" y1="87.6" x2="379.9" y2="87.6" stroke="#a2a2a2" stroke-width="1.3"/>
<rect x="257.3" y="80.2" width="1.3" height="14.6" fill="#fff" stroke="#d2d2d2" stroke-width="0.4"/>
<rect x="257.15" y="79.97" width="1.70" height="14.799999999999999" fill="url(#gC)"/>
<rect x="348.8" y="80.2" width="2.4" height="14.6" fill="#fff" stroke="#d2d2d2" stroke-width="0.4"/>
<rect x="348.55" y="79.97" width="2.80" height="14.799999999999999" fill="url(#gC)"/>
<rect x="356.3" y="80.2" width="3.1" height="14.6" fill="#fff" stroke="#d2d2d2" stroke-width="0.4"/>
<rect x="356.15" y="79.97" width="3.50" height="14.799999999999999" fill="url(#gC)"/>
<rect x="361.6" y="80.2" width="2.0" height="14.6" fill="#fff" stroke="#d2d2d2" stroke-width="0.4"/>
<rect x="361.45" y="79.97" width="2.40" height="14.799999999999999" fill="url(#gC)"/>
<rect x="367.8" y="80.2" width="2.4" height="14.6" fill="#fff" stroke="#d2d2d2" stroke-width="0.4"/>
<rect x="367.55" y="79.97" width="2.80" height="14.799999999999999" fill="url(#gC)"/>
<rect x="377.5" y="80.2" width="2.2" height="14.6" fill="#fff" stroke="#d2d2d2" stroke-width="0.4"/>
<rect x="377.35" y="79.97" width="2.60" height="14.799999999999999" fill="url(#gC)"/>
<text x="260.2" y="80.3" font-size="5.4" font-family="DejaVu Sans, sans-serif" text-anchor="middle" fill="#666" stroke="#666" stroke-width="0.1">0</text>
<text x="352.2" y="80.3" font-size="5.4" font-family="DejaVu Sans, sans-serif" text-anchor="middle" fill="#666" stroke="#666" stroke-width="0.1">2</text>
<text x="361.5" y="80.3" font-size="5.4" font-family="DejaVu Sans, sans-serif" text-anchor="middle" fill="#666" stroke="#666" stroke-width="0.1">1</text>
<text x="364.6" y="80.3" font-size="5.4" font-family="DejaVu Sans, sans-serif" text-anchor="middle" fill="#666" stroke="#666" stroke-width="0.1">0</text>
<text x="371.6" y="80.3" font-size="5.4" font-family="DejaVu Sans, sans-serif" text-anchor="middle" fill="#666" stroke="#666" stroke-width="0.1">0</text>
<text x="381.2" y="80.3" font-size="5.4" font-family="DejaVu Sans, sans-serif" text-anchor="middle" fill="#666" stroke="#666" stroke-width="0.1">0</text>
<line x1="257.7" y1="109.8" x2="356.4" y2="109.8" stroke="#a2a2a2" stroke-width="1.3"/>
<rect x="257.8" y="102.4" width="4.8" height="14.6" fill="#fff" stroke="#d2d2d2" stroke-width="0.4"/>
<rect x="257.65" y="102.16" width="5.20" height="14.799999999999999" fill="url(#gU)"/>
<rect x="282.4" y="102.4" width="0.7" height="14.6" fill="#fff" stroke="#d2d2d2" stroke-width="0.4"/>
<rect x="282.25" y="102.16" width="1.10" height="14.799999999999999" fill="url(#gC)"/>
<rect x="308.1" y="102.4" width="1.5" height="14.6" fill="#fff" stroke="#d2d2d2" stroke-width="0.4"/>
<rect x="307.95" y="102.16" width="1.90" height="14.799999999999999" fill="url(#gC)"/>
<rect x="335.0" y="102.4" width="2.1" height="14.6" fill="#fff" stroke="#d2d2d2" stroke-width="0.4"/>
<rect x="334.85" y="102.16" width="2.50" height="14.799999999999999" fill="url(#gC)"/>
<rect x="342.3" y="102.4" width="3.2" height="14.6" fill="#fff" stroke="#d2d2d2" stroke-width="0.4"/>
<rect x="342.15" y="102.16" width="3.60" height="14.799999999999999" fill="url(#gC)"/>
<rect x="347.8" y="102.4" width="2.0" height="14.6" fill="#fff" stroke="#d2d2d2" stroke-width="0.4"/>
<rect x="347.55" y="102.16" width="2.40" height="14.799999999999999" fill="url(#gC)"/>
<rect x="354.0" y="102.4" width="2.2" height="14.6" fill="#fff" stroke="#d2d2d2" stroke-width="0.4"/>
<rect x="353.85" y="102.16" width="2.60" height="14.799999999999999" fill="url(#gC)"/>
<text x="284.7" y="102.5" font-size="5.4" font-family="DejaVu Sans, sans-serif" text-anchor="middle" fill="#666" stroke="#666" stroke-width="0.1">0</text>
<text x="311.6" y="102.5" font-size="5.4" font-family="DejaVu Sans, sans-serif" text-anchor="middle" fill="#666" stroke="#666" stroke-width="0.1">0</text>
<text x="338.6" y="102.5" font-size="5.4" font-family="DejaVu Sans, sans-serif" text-anchor="middle" fill="#666" stroke="#666" stroke-width="0.1">2</text>
<text x="346.9" y="102.5" font-size="5.4" font-family="DejaVu Sans, sans-serif" text-anchor="middle" fill="#666" stroke="#666" stroke-width="0.1">1</text>
<text x="350.2" y="102.5" font-size="5.4" font-family="DejaVu Sans, sans-serif" text-anchor="middle" fill="#666" stroke="#666" stroke-width="0.1">0</text>
<text x="357.7" y="102.5" font-size="5.4" font-family="DejaVu Sans, sans-serif" text-anchor="middle" fill="#666" stroke="#666" stroke-width="0.1">0</text>
<line x1="257.7" y1="132.0" x2="373.5" y2="132.0" stroke="#a2a2a2" stroke-width="1.3"/>
<rect x="257.8" y="124.6" width="1.0" height="14.6" fill="#fff" stroke="#d2d2d2" stroke-width="0.4"/>
<rect x="257.65" y="124.35" width="1.40" height="14.799999999999999" fill="url(#gU)"/>
<rect x="276.8" y="124.6" width="0.8" height="14.6" fill="#fff" stroke="#d2d2d2" stroke-width="0.4"/>
<rect x="276.65" y="124.35" width="1.20" height="14.799999999999999" fill="url(#gU)"/>
<rect x="292.5" y="124.6" width="1.4" height="14.6" fill="#fff" stroke="#d2d2d2" stroke-width="0.4"/>
<rect x="292.35" y="124.35" width="1.80" height="14.799999999999999" fill="url(#gC)"/>
<rect x="311.4" y="124.6" width="2.1" height="14.6" fill="#fff" stroke="#d2d2d2" stroke-width="0.4"/>
<rect x="311.25" y="124.35" width="2.50" height="14.799999999999999" fill="url(#gC)"/>
<rect x="318.5" y="124.6" width="3.1" height="14.6" fill="#fff" stroke="#d2d2d2" stroke-width="0.4"/>
<rect x="318.35" y="124.35" width="3.50" height="14.799999999999999" fill="url(#gC)"/>
<rect x="323.8" y="124.6" width="1.8" height="14.6" fill="#fff" stroke="#d2d2d2" stroke-width="0.4"/>
<rect x="323.65" y="124.35" width="2.20" height="14.799999999999999" fill="url(#gC)"/>
<rect x="328.9" y="124.6" width="2.0" height="14.6" fill="#fff" stroke="#d2d2d2" stroke-width="0.4"/>
<rect x="328.75" y="124.35" width="2.40" height="14.799999999999999" fill="url(#gC)"/>
<rect x="333.1" y="124.6" width="2.0" height="14.6" fill="#fff" stroke="#d2d2d2" stroke-width="0.4"/>
<rect x="332.95" y="124.35" width="2.40" height="14.799999999999999" fill="url(#gC)"/>
<rect x="349.8" y="124.6" width="0.7" height="14.6" fill="#fff" stroke="#d2d2d2" stroke-width="0.4"/>
<rect x="349.55" y="124.35" width="1.10" height="14.799999999999999" fill="url(#gC)"/>
<rect x="350.8" y="124.6" width="0.9" height="14.6" fill="#fff" stroke="#d2d2d2" stroke-width="0.4"/>
<rect x="350.55" y="124.35" width="1.30" height="14.799999999999999" fill="url(#gU)"/>
<rect x="353.6" y="124.6" width="19.7" height="14.6" fill="#fff" stroke="#d2d2d2" stroke-width="0.4"/>
<rect x="353.45" y="124.35" width="20.10" height="14.799999999999999" fill="url(#gU)"/>
<text x="279.2" y="124.7" font-size="5.4" font-family="DejaVu Sans, sans-serif" text-anchor="middle" fill="#666" stroke="#666" stroke-width="0.1">0</text>
<text x="295.0" y="124.7" font-size="5.4" font-family="DejaVu Sans, sans-serif" text-anchor="middle" fill="#666" stroke="#666" stroke-width="0.1">0</text>
<text x="315.2" y="124.7" font-size="5.4" font-family="DejaVu Sans, sans-serif" text-anchor="middle" fill="#666" stroke="#666" stroke-width="0.1">2</text>
<text x="323.4" y="124.7" font-size="5.4" font-family="DejaVu Sans, sans-serif" text-anchor="middle" fill="#666" stroke="#666" stroke-width="0.1">1</text>
<text x="326.2" y="124.7" font-size="5.4" font-family="DejaVu Sans, sans-serif" text-anchor="middle" fill="#666" stroke="#666" stroke-width="0.1">0</text>
<text x="332.2" y="124.7" font-size="5.4" font-family="DejaVu Sans, sans-serif" text-anchor="middle" fill="#666" stroke="#666" stroke-width="0.1">0</text>
<text x="335.6" y="124.7" font-size="5.4" font-family="DejaVu Sans, sans-serif" text-anchor="middle" fill="#666" stroke="#666" stroke-width="0.1">0</text>
<text x="351.2" y="124.7" font-size="5.4" font-family="DejaVu Sans, sans-serif" text-anchor="middle" fill="#666" stroke="#666" stroke-width="0.1">0</text>
<line x1="257.2" y1="154.1" x2="313.2" y2="154.1" stroke="#a2a2a2" stroke-width="1.3"/>
<rect x="257.3" y="146.7" width="1.3" height="14.6" fill="#fff" stroke="#d2d2d2" stroke-width="0.4"/>
<rect x="257.15" y="146.54" width="1.70" height="14.799999999999999" fill="url(#gC)"/>
<rect x="260.8" y="146.7" width="1.3" height="14.6" fill="#fff" stroke="#d2d2d2" stroke-width="0.4"/>
<rect x="260.55" y="146.54" width="1.70" height="14.799999999999999" fill="url(#gC)"/>
<rect x="264.0" y="146.7" width="1.3" height="14.6" fill="#fff" stroke="#d2d2d2" stroke-width="0.4"/>
<rect x="263.85" y="146.54" width="1.70" height="14.799999999999999" fill="url(#gC)"/>
<rect x="288.8" y="146.7" width="2.6" height="14.6" fill="#fff" stroke="#d2d2d2" stroke-width="0.4"/>
<rect x="288.55" y="146.54" width="3.00" height="14.799999999999999" fill="url(#gC)"/>
<rect x="292.8" y="146.7" width="2.4" height="14.6" fill="#fff" stroke="#d2d2d2" stroke-width="0.4"/>
<rect x="292.55" y="146.54" width="2.80" height="14.799999999999999" fill="url(#gC)"/>
<rect x="300.5" y="146.7" width="3.1" height="14.6" fill="#fff" stroke="#d2d2d2" stroke-width="0.4"/>
<rect x="300.35" y="146.54" width="3.50" height="14.799999999999999" fill="url(#gC)"/>
<rect x="303.9" y="146.7" width="1.9" height="14.6" fill="#fff" stroke="#d2d2d2" stroke-width="0.4"/>
<rect x="303.75" y="146.54" width="2.30" height="14.799999999999999" fill="url(#gU)"/>
<rect x="310.4" y="146.7" width="2.6" height="14.6" fill="#fff" stroke="#d2d2d2" stroke-width="0.4"/>
<rect x="310.25" y="146.54" width="3.00" height="14.799999999999999" fill="url(#gU)"/>
<text x="259.7" y="146.8" font-size="5.4" font-family="DejaVu Sans, sans-serif" text-anchor="middle" fill="#666" stroke="#666" stroke-width="0.1">0</text>
<text x="262.7" y="146.8" font-size="5.4" font-family="DejaVu Sans, sans-serif" text-anchor="middle" fill="#666" stroke="#666" stroke-width="0.1">0</text>
<text x="266.2" y="146.8" font-size="5.4" font-family="DejaVu Sans, sans-serif" text-anchor="middle" fill="#666" stroke="#666" stroke-width="0.1">0</text>
<text x="292.6" y="146.8" font-size="5.4" font-family="DejaVu Sans, sans-serif" text-anchor="middle" fill="#666" stroke="#666" stroke-width="0.1">2</text>
<text x="298.4" y="146.8" font-size="5.4" font-family="DejaVu Sans, sans-serif" text-anchor="middle" fill="#666" stroke="#666" stroke-width="0.1">1</text>
<text x="305.5" y="146.8" font-size="5.4" font-family="DejaVu Sans, sans-serif" text-anchor="middle" fill="#666" stroke="#666" stroke-width="0.1">0</text>
<line x1="257.2" y1="176.3" x2="439.8" y2="176.3" stroke="#a2a2a2" stroke-width="1.3"/>
<rect x="257.3" y="168.9" width="1.3" height="14.6" fill="#fff" stroke="#d2d2d2" stroke-width="0.4"/>
<rect x="257.15" y="168.73" width="1.70" height="14.799999999999999" fill="url(#gC)"/>
<rect x="290.9" y="168.9" width="1.5" height="14.6" fill="#fff" stroke="#d2d2d2" stroke-width="0.4"/>
<rect x="290.75" y="168.73" width="1.90" height="14.799999999999999" fill="url(#gC)"/>
<rect x="379.0" y="168.9" width="1.5" height="14.6" fill="#fff" stroke="#d2d2d2" stroke-width="0.4"/>
<rect x="378.85" y="168.73" width="1.90" height="14.799999999999999" fill="url(#gC)"/>
<rect x="382.4" y="168.9" width="1.5" height="14.6" fill="#fff" stroke="#d2d2d2" stroke-width="0.4"/>
<rect x="382.25" y="168.73" width="1.90" height="14.799999999999999" fill="url(#gC)"/>
<rect x="414.8" y="168.9" width="2.0" height="14.6" fill="#fff" stroke="#d2d2d2" stroke-width="0.4"/>
<rect x="414.65" y="168.73" width="2.40" height="14.799999999999999" fill="url(#gC)"/>
<rect x="418.9" y="168.9" width="2.8" height="14.6" fill="#fff" stroke="#d2d2d2" stroke-width="0.4"/>
<rect x="418.75" y="168.73" width="3.20" height="14.799999999999999" fill="url(#gC)"/>
<rect x="425.6" y="168.9" width="1.9" height="14.6" fill="#fff" stroke="#d2d2d2" stroke-width="0.4"/>
<rect x="425.45" y="168.73" width="2.30" height="14.799999999999999" fill="url(#gC)"/>
<rect x="429.4" y="168.9" width="2.4" height="14.6" fill="#fff" stroke="#d2d2d2" stroke-width="0.4"/>
<rect x="429.25" y="168.73" width="2.80" height="14.799999999999999" fill="url(#gC)"/>
<rect x="436.5" y="168.9" width="3.1" height="14.6" fill="#fff" stroke="#d2d2d2" stroke-width="0.4"/>
<rect x="436.35" y="168.73" width="3.50" height="14.799999999999999" fill="url(#gC)"/>
<text x="260.2" y="169.0" font-size="5.4" font-family="DejaVu Sans, sans-serif" text-anchor="middle" fill="#666" stroke="#666" stroke-width="0.1">0</text>
<text x="293.7" y="169.0" font-size="5.4" font-family="DejaVu Sans, sans-serif" text-anchor="middle" fill="#666" stroke="#666" stroke-width="0.1">0</text>
<text x="382.5" y="169.0" font-size="5.4" font-family="DejaVu Sans, sans-serif" text-anchor="middle" fill="#666" stroke="#666" stroke-width="0.1">1</text>
<text x="385.4" y="169.0" font-size="5.4" font-family="DejaVu Sans, sans-serif" text-anchor="middle" fill="#666" stroke="#666" stroke-width="0.1">2</text>
<text x="417.9" y="169.0" font-size="5.4" font-family="DejaVu Sans, sans-serif" text-anchor="middle" fill="#666" stroke="#666" stroke-width="0.1">2</text>
<text x="423.2" y="169.0" font-size="5.4" font-family="DejaVu Sans, sans-serif" text-anchor="middle" fill="#666" stroke="#666" stroke-width="0.1">1</text>
<text x="427.9" y="169.0" font-size="5.4" font-family="DejaVu Sans, sans-serif" text-anchor="middle" fill="#666" stroke="#666" stroke-width="0.1">0</text>
<text x="432.8" y="169.0" font-size="5.4" font-family="DejaVu Sans, sans-serif" text-anchor="middle" fill="#666" stroke="#666" stroke-width="0.1">0</text>
<text x="441.8" y="169.0" font-size="5.4" font-family="DejaVu Sans, sans-serif" text-anchor="middle" fill="#666" stroke="#666" stroke-width="0.1">0</text>
<line x1="257.2" y1="198.5" x2="327" y2="198.5" stroke="#a2a2a2" stroke-width="1.3"/>
<rect x="257.3" y="191.1" width="1.3" height="14.6" fill="#fff" stroke="#d2d2d2" stroke-width="0.4"/>
<rect x="257.15" y="190.92" width="1.70" height="14.799999999999999" fill="url(#gC)"/>
<rect x="260.0" y="191.1" width="1.1" height="14.6" fill="#fff" stroke="#d2d2d2" stroke-width="0.4"/>
<rect x="259.85" y="190.92" width="1.50" height="14.799999999999999" fill="url(#gC)"/>
<rect x="263.6" y="191.1" width="1.7" height="14.6" fill="#fff" stroke="#d2d2d2" stroke-width="0.4"/>
<rect x="263.45" y="190.92" width="2.10" height="14.799999999999999" fill="url(#gC)"/>
<rect x="288.8" y="191.1" width="2.0" height="14.6" fill="#fff" stroke="#d2d2d2" stroke-width="0.4"/>
<rect x="288.65" y="190.92" width="2.40" height="14.799999999999999" fill="url(#gC)"/>
<rect x="292.8" y="191.1" width="2.5" height="14.6" fill="#fff" stroke="#d2d2d2" stroke-width="0.4"/>
<rect x="292.65" y="190.92" width="2.90" height="14.799999999999999" fill="url(#gC)"/>
<rect x="299.9" y="191.1" width="1.5" height="14.6" fill="#fff" stroke="#d2d2d2" stroke-width="0.4"/>
<rect x="299.75" y="190.92" width="1.90" height="14.799999999999999" fill="url(#gC)"/>
<rect x="304.1" y="191.1" width="2.0" height="14.6" fill="#fff" stroke="#d2d2d2" stroke-width="0.4"/>
<rect x="303.95" y="190.92" width="2.40" height="14.799999999999999" fill="url(#gC)"/>
<rect x="310.1" y="191.1" width="1.6" height="14.6" fill="#fff" stroke="#d2d2d2" stroke-width="0.4"/>
<rect x="309.95" y="190.92" width="2.00" height="14.799999999999999" fill="url(#gC)"/>
<rect x="316.5" y="191.1" width="0.3" height="14.6" fill="#fff" stroke="#d2d2d2" stroke-width="0.4"/>
<rect x="316.35" y="190.92" width="0.70" height="14.799999999999999" fill="url(#gC)"/>
<rect x="317.1" y="191.1" width="10.0" height="14.6" fill="#fff" stroke="#d2d2d2" stroke-width="0.4"/>
<rect x="316.95" y="190.92" width="10.40" height="14.799999999999999" fill="url(#gU)"/>
<text x="259.7" y="191.2" font-size="5.4" font-family="DejaVu Sans, sans-serif" text-anchor="middle" fill="#666" stroke="#666" stroke-width="0.1">0</text>
<text x="262.5" y="191.2" font-size="5.4" font-family="DejaVu Sans, sans-serif" text-anchor="middle" fill="#666" stroke="#666" stroke-width="0.1">0</text>
<text x="266.2" y="191.2" font-size="5.4" font-family="DejaVu Sans, sans-serif" text-anchor="middle" fill="#666" stroke="#666" stroke-width="0.1">0</text>
<text x="292.6" y="191.2" font-size="5.4" font-family="DejaVu Sans, sans-serif" text-anchor="middle" fill="#666" stroke="#666" stroke-width="0.1">2</text>
<text x="297.7" y="191.2" font-size="5.4" font-family="DejaVu Sans, sans-serif" text-anchor="middle" fill="#666" stroke="#666" stroke-width="0.1">1</text>
<text x="302.9" y="191.2" font-size="5.4" font-family="DejaVu Sans, sans-serif" text-anchor="middle" fill="#666" stroke="#666" stroke-width="0.1">0</text>
<text x="306.2" y="191.2" font-size="5.4" font-family="DejaVu Sans, sans-serif" text-anchor="middle" fill="#666" stroke="#666" stroke-width="0.1">0</text>
<text x="312.9" y="191.2" font-size="5.4" font-family="DejaVu Sans, sans-serif" text-anchor="middle" fill="#666" stroke="#666" stroke-width="0.1">0</text>
<text x="318.2" y="191.2" font-size="5.4" font-family="DejaVu Sans, sans-serif" text-anchor="middle" fill="#666" stroke="#666" stroke-width="0.1">1</text>
<line x1="257.2" y1="220.7" x2="331.5" y2="220.7" stroke="#a2a2a2" stroke-width="1.3"/>
<rect x="257.3" y="213.3" width="3.5" height="14.6" fill="#fff" stroke="#d2d2d2" stroke-width="0.4"/>
<rect x="257.15" y="213.11" width="3.90" height="14.799999999999999" fill="url(#gU)"/>
<rect x="261.1" y="213.3" width="1.3" height="14.6" fill="#fff" stroke="#d2d2d2" stroke-width="0.4"/>
<rect x="260.95" y="213.11" width="1.70" height="14.799999999999999" fill="url(#gC)"/>
<rect x="264.1" y="213.3" width="1.7" height="14.6" fill="#fff" stroke="#d2d2d2" stroke-width="0.4"/>
<rect x="263.95" y="213.11" width="2.10" height="14.799999999999999" fill="url(#gC)"/>
<rect x="268.1" y="213.3" width="1.5" height="14.6" fill="#fff" stroke="#d2d2d2" stroke-width="0.4"/>
<rect x="267.95" y="213.11" width="1.90" height="14.799999999999999" fill="url(#gC)"/>
<rect x="292.8" y="213.3" width="2.1" height="14.6" fill="#fff" stroke="#d2d2d2" stroke-width="0.4"/>
<rect x="292.65" y="213.11" width="2.50" height="14.799999999999999" fill="url(#gC)"/>
<rect x="297.1" y="213.3" width="2.7" height="14.6" fill="#fff" stroke="#d2d2d2" stroke-width="0.4"/>
<rect x="296.95" y="213.11" width="3.10" height="14.799999999999999" fill="url(#gC)"/>
<rect x="304.1" y="213.3" width="1.7" height="14.6" fill="#fff" stroke="#d2d2d2" stroke-width="0.4"/>
<rect x="303.95" y="213.11" width="2.10" height="14.799999999999999" fill="url(#gC)"/>
<rect x="308.0" y="213.3" width="2.0" height="14.6" fill="#fff" stroke="#d2d2d2" stroke-width="0.4"/>
<rect x="307.85" y="213.11" width="2.40" height="14.799999999999999" fill="url(#gC)"/>
<rect x="314.3" y="213.3" width="1.5" height="14.6" fill="#fff" stroke="#d2d2d2" stroke-width="0.4"/>
<rect x="314.15" y="213.11" width="1.90" height="14.799999999999999" fill="url(#gC)"/>
<rect x="320.4" y="213.3" width="0.3" height="14.6" fill="#fff" stroke="#d2d2d2" stroke-width="0.4"/>
<rect x="320.25" y="213.11" width="0.70" height="14.799999999999999" fill="url(#gC)"/>
<rect x="321.0" y="213.3" width="10.4" height="14.6" fill="#fff" stroke="#d2d2d2" stroke-width="0.4"/>
<rect x="320.85" y="213.11" width="10.80" height="14.799999999999999" fill="url(#gU)"/>
<text x="263.7" y="213.4" font-size="5.4" font-family="DejaVu Sans, sans-serif" text-anchor="middle" fill="#666" stroke="#666" stroke-width="0.1">0</text>
<text x="266.7" y="213.4" font-size="5.4" font-family="DejaVu Sans, sans-serif" text-anchor="middle" fill="#666" stroke="#666" stroke-width="0.1">0</text>
<text x="270.2" y="213.4" font-size="5.4" font-family="DejaVu Sans, sans-serif" text-anchor="middle" fill="#666" stroke="#666" stroke-width="0.1">0</text>
<text x="296.6" y="213.4" font-size="5.4" font-family="DejaVu Sans, sans-serif" text-anchor="middle" fill="#666" stroke="#666" stroke-width="0.1">2</text>
<text x="301.7" y="213.4" font-size="5.4" font-family="DejaVu Sans, sans-serif" text-anchor="middle" fill="#666" stroke="#666" stroke-width="0.1">1</text>
<text x="306.2" y="213.4" font-size="5.4" font-family="DejaVu Sans, sans-serif" text-anchor="middle" fill="#666" stroke="#666" stroke-width="0.1">0</text>
<text x="310.0" y="213.4" font-size="5.4" font-family="DejaVu Sans, sans-serif" text-anchor="middle" fill="#666" stroke="#666" stroke-width="0.1">0</text>
<text x="316.7" y="213.4" font-size="5.4" font-family="DejaVu Sans, sans-serif" text-anchor="middle" fill="#666" stroke="#666" stroke-width="0.1">0</text>
<text x="322.1" y="213.4" font-size="5.4" font-family="DejaVu Sans, sans-serif" text-anchor="middle" fill="#666" stroke="#666" stroke-width="0.1">1</text>
<line x1="257.2" y1="242.9" x2="321.4" y2="242.9" stroke="#a2a2a2" stroke-width="1.3"/>
<rect x="257.3" y="235.5" width="1.7" height="14.6" fill="#fff" stroke="#d2d2d2" stroke-width="0.4"/>
<rect x="257.15" y="235.30" width="2.10" height="14.799999999999999" fill="url(#gU)"/>
<rect x="261.1" y="235.5" width="1.3" height="14.6" fill="#fff" stroke="#d2d2d2" stroke-width="0.4"/>
<rect x="260.95" y="235.30" width="1.70" height="14.799999999999999" fill="url(#gC)"/>
<rect x="264.1" y="235.5" width="1.7" height="14.6" fill="#fff" stroke="#d2d2d2" stroke-width="0.4"/>
<rect x="263.95" y="235.30" width="2.10" height="14.799999999999999" fill="url(#gC)"/>
<rect x="268.1" y="235.5" width="1.5" height="14.6" fill="#fff" stroke="#d2d2d2" stroke-width="0.4"/>
<rect x="267.95" y="235.30" width="1.90" height="14.799999999999999" fill="url(#gC)"/>
<rect x="292.8" y="235.5" width="2.1" height="14.6" fill="#fff" stroke="#d2d2d2" stroke-width="0.4"/>
<rect x="292.65" y="235.30" width="2.50" height="14.799999999999999" fill="url(#gC)"/>
<rect x="297.1" y="235.5" width="2.7" height="14.6" fill="#fff" stroke="#d2d2d2" stroke-width="0.4"/>
<rect x="296.95" y="235.30" width="3.10" height="14.799999999999999" fill="url(#gC)"/>
<rect x="304.1" y="235.5" width="1.7" height="14.6" fill="#fff" stroke="#d2d2d2" stroke-width="0.4"/>
<rect x="303.95" y="235.30" width="2.10" height="14.799999999999999" fill="url(#gC)"/>
<rect x="308.0" y="235.5" width="2.0" height="14.6" fill="#fff" stroke="#d2d2d2" stroke-width="0.4"/>
<rect x="307.85" y="235.30" width="2.40" height="14.799999999999999" fill="url(#gC)"/>
<rect x="314.3" y="235.5" width="1.5" height="14.6" fill="#fff" stroke="#d2d2d2" stroke-width="0.4"/>
<rect x="314.15" y="235.30" width="1.90" height="14.799999999999999" fill="url(#gC)"/>
<rect x="320.8" y="235.5" width="0.7" height="14.6" fill="#fff" stroke="#d2d2d2" stroke-width="0.4"/>
<rect x="320.55" y="235.30" width="1.10" height="14.799999999999999" fill="url(#gC)"/>
<text x="263.7" y="235.6" font-size="5.4" font-family="DejaVu Sans, sans-serif" text-anchor="middle" fill="#666" stroke="#666" stroke-width="0.1">0</text>
<text x="266.7" y="235.6" font-size="5.4" font-family="DejaVu Sans, sans-serif" text-anchor="middle" fill="#666" stroke="#666" stroke-width="0.1">0</text>
<text x="270.2" y="235.6" font-size="5.4" font-family="DejaVu Sans, sans-serif" text-anchor="middle" fill="#666" stroke="#666" stroke-width="0.1">0</text>
<text x="296.6" y="235.6" font-size="5.4" font-family="DejaVu Sans, sans-serif" text-anchor="middle" fill="#666" stroke="#666" stroke-width="0.1">2</text>
<text x="301.7" y="235.6" font-size="5.4" font-family="DejaVu Sans, sans-serif" text-anchor="middle" fill="#666" stroke="#666" stroke-width="0.1">1</text>
<text x="306.2" y="235.6" font-size="5.4" font-family="DejaVu Sans, sans-serif" text-anchor="middle" fill="#666" stroke="#666" stroke-width="0.1">0</text>
<text x="310.0" y="235.6" font-size="5.4" font-family="DejaVu Sans, sans-serif" text-anchor="middle" fill="#666" stroke="#666" stroke-width="0.1">0</text>
<text x="316.7" y="235.6" font-size="5.4" font-family="DejaVu Sans, sans-serif" text-anchor="middle" fill="#666" stroke="#666" stroke-width="0.1">0</text>
<text x="322.2" y="235.6" font-size="5.4" font-family="DejaVu Sans, sans-serif" text-anchor="middle" fill="#666" stroke="#666" stroke-width="0.1">1</text>
<line x1="257.2" y1="265.1" x2="340" y2="265.1" stroke="#a2a2a2" stroke-width="1.3"/>
<rect x="257.3" y="257.7" width="3.1" height="14.6" fill="#fff" stroke="#d2d2d2" stroke-width="0.4"/>
<rect x="257.15" y="257.49" width="3.50" height="14.799999999999999" fill="url(#gU)"/>
<rect x="260.8" y="257.7" width="7.1" height="14.6" fill="#fff" stroke="#d2d2d2" stroke-width="0.4"/>
<rect x="260.55" y="257.49" width="7.50" height="14.799999999999999" fill="url(#gC)"/>
<rect x="297.1" y="257.7" width="2.4" height="14.6" fill="#fff" stroke="#d2d2d2" stroke-width="0.4"/>
<rect x="296.95" y="257.49" width="2.80" height="14.799999999999999" fill="url(#gC)"/>
<rect x="314.4" y="257.7" width="5.3" height="14.6" fill="#fff" stroke="#d2d2d2" stroke-width="0.4"/>
<rect x="314.25" y="257.49" width="5.70" height="14.799999999999999" fill="url(#gC)"/>
<rect x="324.9" y="257.7" width="2.6" height="14.6" fill="#fff" stroke="#d2d2d2" stroke-width="0.4"/>
<rect x="324.75" y="257.49" width="3.00" height="14.799999999999999" fill="url(#gC)"/>
<rect x="327.8" y="257.7" width="12.0" height="14.6" fill="#fff" stroke="#d2d2d2" stroke-width="0.4"/>
<rect x="327.65" y="257.49" width="12.40" height="14.799999999999999" fill="url(#gU)"/>
<text x="269.1" y="257.8" font-size="5.4" font-family="DejaVu Sans, sans-serif" text-anchor="middle" fill="#666" stroke="#666" stroke-width="0.1">0</text>
<text x="301.5" y="257.8" font-size="5.4" font-family="DejaVu Sans, sans-serif" text-anchor="middle" fill="#666" stroke="#666" stroke-width="0.1">0</text>
<text x="321.6" y="257.8" font-size="5.4" font-family="DejaVu Sans, sans-serif" text-anchor="middle" fill="#666" stroke="#666" stroke-width="0.1">0</text>
<text x="329.0" y="257.8" font-size="5.4" font-family="DejaVu Sans, sans-serif" text-anchor="middle" fill="#666" stroke="#666" stroke-width="0.1">0</text>
<line x1="257.2" y1="287.3" x2="462.2" y2="287.3" stroke="#a2a2a2" stroke-width="1.3"/>
<rect x="257.3" y="279.9" width="6.5" height="14.6" fill="#fff" stroke="#d2d2d2" stroke-width="0.4"/>
<rect x="257.15" y="279.68" width="6.90" height="14.799999999999999" fill="url(#gU)"/>
<rect x="264.1" y="279.9" width="4.6" height="14.6" fill="#fff" stroke="#d2d2d2" stroke-width="0.4"/>
<rect x="263.95" y="279.68" width="5.00" height="14.799999999999999" fill="url(#gC)"/>
<rect x="318.4" y="279.9" width="2.8" height="14.6" fill="#fff" stroke="#d2d2d2" stroke-width="0.4"/>
<rect x="318.25" y="279.68" width="3.20" height="14.799999999999999" fill="url(#gC)"/>
<rect x="428.9" y="279.9" width="5.8" height="14.6" fill="#fff" stroke="#d2d2d2" stroke-width="0.4"/>
<rect x="428.75" y="279.68" width="6.20" height="14.799999999999999" fill="url(#gC)"/>
<rect x="450.2" y="279.9" width="2.4" height="14.6" fill="#fff" stroke="#d2d2d2" stroke-width="0.4"/>
<rect x="450.05" y="279.68" width="2.80" height="14.799999999999999" fill="url(#gC)"/>
<rect x="452.9" y="279.9" width="9.1" height="14.6" fill="#fff" stroke="#d2d2d2" stroke-width="0.4"/>
<rect x="452.75" y="279.68" width="9.50" height="14.799999999999999" fill="url(#gU)"/>
<text x="270.4" y="280.0" font-size="5.4" font-family="DejaVu Sans, sans-serif" text-anchor="middle" fill="#666" stroke="#666" stroke-width="0.1">0</text>
<text x="323.0" y="280.0" font-size="5.4" font-family="DejaVu Sans, sans-serif" text-anchor="middle" fill="#666" stroke="#666" stroke-width="0.1">0</text>
<text x="436.2" y="280.0" font-size="5.4" font-family="DejaVu Sans, sans-serif" text-anchor="middle" fill="#666" stroke="#666" stroke-width="0.1">0</text>
<text x="454.5" y="280.0" font-size="5.4" font-family="DejaVu Sans, sans-serif" text-anchor="middle" fill="#666" stroke="#666" stroke-width="0.1">0</text>
<line x1="257.2" y1="309.5" x2="315" y2="309.5" stroke="#a2a2a2" stroke-width="1.3"/>
<rect x="257.3" y="302.1" width="2.4" height="14.6" fill="#fff" stroke="#d2d2d2" stroke-width="0.4"/>
<rect x="257.15" y="301.87" width="2.80" height="14.799999999999999" fill="url(#gU)"/>
<rect x="260.0" y="302.1" width="6.4" height="14.6" fill="#fff" stroke="#d2d2d2" stroke-width="0.4"/>
<rect x="259.85" y="301.87" width="6.80" height="14.799999999999999" fill="url(#gC)"/>
<rect x="277.0" y="302.1" width="2.8" height="14.6" fill="#fff" stroke="#d2d2d2" stroke-width="0.4"/>
<rect x="276.85" y="301.87" width="3.20" height="14.799999999999999" fill="url(#gC)"/>
<rect x="286.4" y="302.1" width="4.2" height="14.6" fill="#fff" stroke="#d2d2d2" stroke-width="0.4"/>
<rect x="286.25" y="301.87" width="4.60" height="14.799999999999999" fill="url(#gC)"/>
<rect x="304.3" y="302.1" width="3.1" height="14.6" fill="#fff" stroke="#d2d2d2" stroke-width="0.4"/>
<rect x="304.15" y="301.87" width="3.50" height="14.799999999999999" fill="url(#gC)"/>
<rect x="307.8" y="302.1" width="7.1" height="14.6" fill="#fff" stroke="#d2d2d2" stroke-width="0.4"/>
<rect x="307.55" y="301.87" width="7.50" height="14.799999999999999" fill="url(#gU)"/>
<text x="268.0" y="302.2" font-size="5.4" font-family="DejaVu Sans, sans-serif" text-anchor="middle" fill="#666" stroke="#666" stroke-width="0.1">0</text>
<text x="281.6" y="302.2" font-size="5.4" font-family="DejaVu Sans, sans-serif" text-anchor="middle" fill="#666" stroke="#666" stroke-width="0.1">0</text>
<text x="292.1" y="302.2" font-size="5.4" font-family="DejaVu Sans, sans-serif" text-anchor="middle" fill="#666" stroke="#666" stroke-width="0.1">0</text>
<text x="308.9" y="302.2" font-size="5.4" font-family="DejaVu Sans, sans-serif" text-anchor="middle" fill="#666" stroke="#666" stroke-width="0.1">0</text>
<line x1="257.2" y1="331.7" x2="368.6" y2="331.7" stroke="#a2a2a2" stroke-width="1.3"/>
<rect x="257.3" y="324.3" width="2.4" height="14.6" fill="#fff" stroke="#d2d2d2" stroke-width="0.4"/>
<rect x="257.15" y="324.06" width="2.80" height="14.799999999999999" fill="url(#gU)"/>
<rect x="260.0" y="324.3" width="2.2" height="14.6" fill="#fff" stroke="#d2d2d2" stroke-width="0.4"/>
<rect x="259.85" y="324.06" width="2.60" height="14.799999999999999" fill="url(#gC)"/>
<rect x="294.9" y="324.3" width="3.1" height="14.6" fill="#fff" stroke="#d2d2d2" stroke-width="0.4"/>
<rect x="294.75" y="324.06" width="3.50" height="14.799999999999999" fill="url(#gC)"/>
<rect x="300.3" y="324.3" width="2.2" height="14.6" fill="#fff" stroke="#d2d2d2" stroke-width="0.4"/>
<rect x="300.15" y="324.06" width="2.60" height="14.799999999999999" fill="url(#gC)"/>
<rect x="304.3" y="324.3" width="3.5" height="14.6" fill="#fff" stroke="#d2d2d2" stroke-width="0.4"/>
<rect x="304.15" y="324.06" width="3.90" height="14.799999999999999" fill="url(#gC)"/>
<rect x="348.6" y="324.3" width="1.7" height="14.6" fill="#fff" stroke="#d2d2d2" stroke-width="0.4"/>
<rect x="348.45" y="324.06" width="2.10" height="14.799999999999999" fill="url(#gC)"/>
<rect x="360.8" y="324.3" width="2.1" height="14.6" fill="#fff" stroke="#d2d2d2" stroke-width="0.4"/>
<rect x="360.55" y="324.06" width="2.50" height="14.799999999999999" fill="url(#gC)"/>
<rect x="363.1" y="324.3" width="5.3" height="14.6" fill="#fff" stroke="#d2d2d2" stroke-width="0.4"/>
<rect x="362.95" y="324.06" width="5.70" height="14.799999999999999" fill="url(#gU)"/>
<text x="263.5" y="324.4" font-size="5.4" font-family="DejaVu Sans, sans-serif" text-anchor="middle" fill="#666" stroke="#666" stroke-width="0.1">0</text>
<text x="299.2" y="324.4" font-size="5.4" font-family="DejaVu Sans, sans-serif" text-anchor="middle" fill="#666" stroke="#666" stroke-width="0.1">2</text>
<text x="303.2" y="324.4" font-size="5.4" font-family="DejaVu Sans, sans-serif" text-anchor="middle" fill="#666" stroke="#666" stroke-width="0.1">0</text>
<text x="308.9" y="324.4" font-size="5.4" font-family="DejaVu Sans, sans-serif" text-anchor="middle" fill="#666" stroke="#666" stroke-width="0.1">0</text>
<text x="351.8" y="324.4" font-size="5.4" font-family="DejaVu Sans, sans-serif" text-anchor="middle" fill="#666" stroke="#666" stroke-width="0.1">0</text>
<text x="364.2" y="324.4" font-size="5.4" font-family="DejaVu Sans, sans-serif" text-anchor="middle" fill="#666" stroke="#666" stroke-width="0.1">0</text>
<line x1="257.2" y1="353.9" x2="345.2" y2="353.9" stroke="#a2a2a2" stroke-width="1.3"/>
<rect x="257.3" y="346.5" width="2.4" height="14.6" fill="#fff" stroke="#d2d2d2" stroke-width="0.4"/>
<rect x="257.15" y="346.25" width="2.80" height="14.799999999999999" fill="url(#gU)"/>
<rect x="260.0" y="346.5" width="2.2" height="14.6" fill="#fff" stroke="#d2d2d2" stroke-width="0.4"/>
<rect x="259.85" y="346.25" width="2.60" height="14.799999999999999" fill="url(#gC)"/>
<rect x="302.5" y="346.5" width="2.6" height="14.6" fill="#fff" stroke="#d2d2d2" stroke-width="0.4"/>
<rect x="302.35" y="346.25" width="3.00" height="14.799999999999999" fill="url(#gC)"/>
<rect x="308.1" y="346.5" width="2.2" height="14.6" fill="#fff" stroke="#d2d2d2" stroke-width="0.4"/>
<rect x="307.95" y="346.25" width="2.60" height="14.799999999999999" fill="url(#gC)"/>
<rect x="312.8" y="346.5" width="3.5" height="14.6" fill="#fff" stroke="#d2d2d2" stroke-width="0.4"/>
<rect x="312.65" y="346.25" width="3.90" height="14.799999999999999" fill="url(#gC)"/>
<rect x="324.5" y="346.5" width="1.4" height="14.6" fill="#fff" stroke="#d2d2d2" stroke-width="0.4"/>
<rect x="324.35" y="346.25" width="1.80" height="14.799999999999999" fill="url(#gC)"/>
<rect x="332.8" y="346.5" width="2.2" height="14.6" fill="#fff" stroke="#d2d2d2" stroke-width="0.4"/>
<rect x="332.55" y="346.25" width="2.60" height="14.799999999999999" fill="url(#gC)"/>
<rect x="335.2" y="346.5" width="9.8" height="14.6" fill="#fff" stroke="#d2d2d2" stroke-width="0.4"/>
<rect x="335.05" y="346.25" width="10.20" height="14.799999999999999" fill="url(#gU)"/>
<text x="263.5" y="346.6" font-size="5.4" font-family="DejaVu Sans, sans-serif" text-anchor="middle" fill="#666" stroke="#666" stroke-width="0.1">0</text>
<text x="306.7" y="346.6" font-size="5.4" font-family="DejaVu Sans, sans-serif" text-anchor="middle" fill="#666" stroke="#666" stroke-width="0.1">2</text>
<text x="311.8" y="346.6" font-size="5.4" font-family="DejaVu Sans, sans-serif" text-anchor="middle" fill="#666" stroke="#666" stroke-width="0.1">0</text>
<text x="317.8" y="346.6" font-size="5.4" font-family="DejaVu Sans, sans-serif" text-anchor="middle" fill="#666" stroke="#666" stroke-width="0.1">0</text>
<text x="327.2" y="346.6" font-size="5.4" font-family="DejaVu Sans, sans-serif" text-anchor="middle" fill="#666" stroke="#666" stroke-width="0.1">0</text>
<text x="336.2" y="346.6" font-size="5.4" font-family="DejaVu Sans, sans-serif" text-anchor="middle" fill="#666" stroke="#666" stroke-width="0.1">0</text>
<line x1="257.2" y1="376.0" x2="321.7" y2="376.0" stroke="#a2a2a2" stroke-width="1.3"/>
<rect x="257.3" y="368.6" width="3.8" height="14.6" fill="#fff" stroke="#d2d2d2" stroke-width="0.4"/>
<rect x="257.15" y="368.44" width="4.20" height="14.799999999999999" fill="url(#gC)"/>
<rect x="268.5" y="368.6" width="2.0" height="14.6" fill="#fff" stroke="#d2d2d2" stroke-width="0.4"/>
<rect x="268.35" y="368.44" width="2.40" height="14.799999999999999" fill="url(#gC)"/>
<rect x="285.8" y="368.6" width="2.7" height="14.6" fill="#fff" stroke="#d2d2d2" stroke-width="0.4"/>
<rect x="285.55" y="368.44" width="3.10" height="14.799999999999999" fill="url(#gC)"/>
<rect x="291.3" y="368.6" width="2.2" height="14.6" fill="#fff" stroke="#d2d2d2" stroke-width="0.4"/>
<rect x="291.15" y="368.44" width="2.60" height="14.799999999999999" fill="url(#gC)"/>
<rect x="307.0" y="368.6" width="2.6" height="14.6" fill="#fff" stroke="#d2d2d2" stroke-width="0.4"/>
<rect x="306.85" y="368.44" width="3.00" height="14.799999999999999" fill="url(#gC)"/>
<rect x="318.2" y="368.6" width="3.3" height="14.6" fill="#fff" stroke="#d2d2d2" stroke-width="0.4"/>
<rect x="318.05" y="368.44" width="3.70" height="14.799999999999999" fill="url(#gC)"/>
<text x="263.0" y="368.7" font-size="5.4" font-family="DejaVu Sans, sans-serif" text-anchor="middle" fill="#666" stroke="#666" stroke-width="0.1">0</text>
<text x="272.0" y="368.7" font-size="5.4" font-family="DejaVu Sans, sans-serif" text-anchor="middle" fill="#666" stroke="#666" stroke-width="0.1">0</text>
<text x="289.9" y="368.7" font-size="5.4" font-family="DejaVu Sans, sans-serif" text-anchor="middle" fill="#666" stroke="#666" stroke-width="0.1">0</text>
<text x="295.0" y="368.7" font-size="5.4" font-family="DejaVu Sans, sans-serif" text-anchor="middle" fill="#666" stroke="#666" stroke-width="0.1">0</text>
<text x="311.1" y="368.7" font-size="5.4" font-family="DejaVu Sans, sans-serif" text-anchor="middle" fill="#666" stroke="#666" stroke-width="0.1">0</text>
<text x="323.4" y="368.7" font-size="5.4" font-family="DejaVu Sans, sans-serif" text-anchor="middle" fill="#666" stroke="#666" stroke-width="0.1">2</text>
<line x1="257.2" y1="398.2" x2="353.9" y2="398.2" stroke="#a2a2a2" stroke-width="1.3"/>
<rect x="257.3" y="390.8" width="3.8" height="14.6" fill="#fff" stroke="#d2d2d2" stroke-width="0.4"/>
<rect x="257.15" y="390.63" width="4.20" height="14.799999999999999" fill="url(#gC)"/>
<rect x="263.4" y="390.8" width="1.9" height="14.6" fill="#fff" stroke="#d2d2d2" stroke-width="0.4"/>
<rect x="263.25" y="390.63" width="2.30" height="14.799999999999999" fill="url(#gC)"/>
<rect x="324.5" y="390.8" width="2.3" height="14.6" fill="#fff" stroke="#d2d2d2" stroke-width="0.4"/>
<rect x="324.35" y="390.63" width="2.70" height="14.799999999999999" fill="url(#gC)"/>
<rect x="329.6" y="390.8" width="2.4" height="14.6" fill="#fff" stroke="#d2d2d2" stroke-width="0.4"/>
<rect x="329.45" y="390.63" width="2.80" height="14.799999999999999" fill="url(#gC)"/>
<rect x="336.1" y="390.8" width="3.3" height="14.6" fill="#fff" stroke="#d2d2d2" stroke-width="0.4"/>
<rect x="335.95" y="390.63" width="3.70" height="14.799999999999999" fill="url(#gC)"/>
<rect x="350.6" y="390.8" width="3.1" height="14.6" fill="#fff" stroke="#d2d2d2" stroke-width="0.4"/>
<rect x="350.45" y="390.63" width="3.50" height="14.799999999999999" fill="url(#gC)"/>
<text x="262.6" y="390.9" font-size="5.4" font-family="DejaVu Sans, sans-serif" text-anchor="middle" fill="#666" stroke="#666" stroke-width="0.1">0</text>
<text x="266.4" y="390.9" font-size="5.4" font-family="DejaVu Sans, sans-serif" text-anchor="middle" fill="#666" stroke="#666" stroke-width="0.1">0</text>
<text x="328.4" y="390.9" font-size="5.4" font-family="DejaVu Sans, sans-serif" text-anchor="middle" fill="#666" stroke="#666" stroke-width="0.1">0</text>
<text x="333.5" y="390.9" font-size="5.4" font-family="DejaVu Sans, sans-serif" text-anchor="middle" fill="#666" stroke="#666" stroke-width="0.1">0</text>
<text x="340.9" y="390.9" font-size="5.4" font-family="DejaVu Sans, sans-serif" text-anchor="middle" fill="#666" stroke="#666" stroke-width="0.1">0</text>
<text x="355.2" y="390.9" font-size="5.4" font-family="DejaVu Sans, sans-serif" text-anchor="middle" fill="#666" stroke="#666" stroke-width="0.1">0</text>
<line x1="257.2" y1="420.4" x2="395.5" y2="420.4" stroke="#a2a2a2" stroke-width="1.3"/>
<rect x="257.3" y="413.0" width="2.4" height="14.6" fill="#fff" stroke="#d2d2d2" stroke-width="0.4"/>
<rect x="257.15" y="412.82" width="2.80" height="14.799999999999999" fill="url(#gU)"/>
<rect x="260.0" y="413.0" width="3.8" height="14.6" fill="#fff" stroke="#d2d2d2" stroke-width="0.4"/>
<rect x="259.85" y="412.82" width="4.20" height="14.799999999999999" fill="url(#gC)"/>
<rect x="266.3" y="413.0" width="1.9" height="14.6" fill="#fff" stroke="#d2d2d2" stroke-width="0.4"/>
<rect x="266.15" y="412.82" width="2.30" height="14.799999999999999" fill="url(#gC)"/>
<rect x="326.8" y="413.0" width="2.4" height="14.6" fill="#fff" stroke="#d2d2d2" stroke-width="0.4"/>
<rect x="326.55" y="412.82" width="2.80" height="14.799999999999999" fill="url(#gC)"/>
<rect x="332.1" y="413.0" width="2.4" height="14.6" fill="#fff" stroke="#d2d2d2" stroke-width="0.4"/>
<rect x="331.95" y="412.82" width="2.80" height="14.799999999999999" fill="url(#gC)"/>
<rect x="338.8" y="413.0" width="2.7" height="14.6" fill="#fff" stroke="#d2d2d2" stroke-width="0.4"/>
<rect x="338.65" y="412.82" width="3.10" height="14.799999999999999" fill="url(#gC)"/>
<rect x="352.4" y="413.0" width="2.0" height="14.6" fill="#fff" stroke="#d2d2d2" stroke-width="0.4"/>
<rect x="352.25" y="412.82" width="2.40" height="14.799999999999999" fill="url(#gC)"/>
<rect x="388.9" y="413.0" width="1.8" height="14.6" fill="#fff" stroke="#d2d2d2" stroke-width="0.4"/>
<rect x="388.75" y="412.82" width="2.20" height="14.799999999999999" fill="url(#gC)"/>
<rect x="391.0" y="413.0" width="4.3" height="14.6" fill="#fff" stroke="#d2d2d2" stroke-width="0.4"/>
<rect x="390.85" y="412.82" width="4.70" height="14.799999999999999" fill="url(#gU)"/>
<text x="265.7" y="413.1" font-size="5.4" font-family="DejaVu Sans, sans-serif" text-anchor="middle" fill="#666" stroke="#666" stroke-width="0.1">0</text>
<text x="269.7" y="413.1" font-size="5.4" font-family="DejaVu Sans, sans-serif" text-anchor="middle" fill="#666" stroke="#666" stroke-width="0.1">0</text>
<text x="330.8" y="413.1" font-size="5.4" font-family="DejaVu Sans, sans-serif" text-anchor="middle" fill="#666" stroke="#666" stroke-width="0.1">0</text>
<text x="336.2" y="413.1" font-size="5.4" font-family="DejaVu Sans, sans-serif" text-anchor="middle" fill="#666" stroke="#666" stroke-width="0.1">0</text>
<text x="343.6" y="413.1" font-size="5.4" font-family="DejaVu Sans, sans-serif" text-anchor="middle" fill="#666" stroke="#666" stroke-width="0.1">0</text>
<text x="355.9" y="413.1" font-size="5.4" font-family="DejaVu Sans, sans-serif" text-anchor="middle" fill="#666" stroke="#666" stroke-width="0.1">0</text>
<text x="392.4" y="413.1" font-size="5.4" font-family="DejaVu Sans, sans-serif" text-anchor="middle" fill="#666" stroke="#666" stroke-width="0.1">0</text>
<line x1="257.3" y1="442.6" x2="319.4" y2="442.6" stroke="#a2a2a2" stroke-width="1.3"/>
<rect x="257.4" y="435.2" width="0.8" height="14.6" fill="#fff" stroke="#d2d2d2" stroke-width="0.4"/>
<rect x="257.25" y="435.01" width="1.20" height="14.799999999999999" fill="url(#gU)"/>
<rect x="258.5" y="435.2" width="4.2" height="14.6" fill="#fff" stroke="#d2d2d2" stroke-width="0.4"/>
<rect x="258.35" y="435.01" width="4.60" height="14.799999999999999" fill="url(#gC)"/>
<rect x="306.1" y="435.2" width="2.4" height="14.6" fill="#fff" stroke="#d2d2d2" stroke-width="0.4"/>
<rect x="305.95" y="435.01" width="2.80" height="14.799999999999999" fill="url(#gC)"/>
<rect x="311.5" y="435.2" width="3.7" height="14.6" fill="#fff" stroke="#d2d2d2" stroke-width="0.4"/>
<rect x="311.35" y="435.01" width="4.10" height="14.799999999999999" fill="url(#gC)"/>
<rect x="315.5" y="435.2" width="3.7" height="14.6" fill="#fff" stroke="#d2d2d2" stroke-width="0.4"/>
<rect x="315.35" y="435.01" width="4.10" height="14.799999999999999" fill="url(#gU)"/>
<text x="264.2" y="435.3" font-size="5.4" font-family="DejaVu Sans, sans-serif" text-anchor="middle" fill="#666" stroke="#666" stroke-width="0.1">0</text>
<text x="310.5" y="435.3" font-size="5.4" font-family="DejaVu Sans, sans-serif" text-anchor="middle" fill="#666" stroke="#666" stroke-width="0.1">0</text>
<text x="317.4" y="435.3" font-size="5.4" font-family="DejaVu Sans, sans-serif" text-anchor="middle" fill="#666" stroke="#666" stroke-width="0.1">1</text>
<line x1="257.2" y1="464.8" x2="313.8" y2="464.8" stroke="#a2a2a2" stroke-width="1.3"/>
<rect x="257.3" y="457.4" width="4.2" height="14.6" fill="#fff" stroke="#d2d2d2" stroke-width="0.4"/>
<rect x="257.15" y="457.20" width="4.60" height="14.799999999999999" fill="url(#gC)"/>
<rect x="275.8" y="457.4" width="4.1" height="14.6" fill="#fff" stroke="#d2d2d2" stroke-width="0.4"/>
<rect x="275.55" y="457.20" width="4.50" height="14.799999999999999" fill="url(#gC)"/>
<rect x="280.1" y="457.4" width="33.5" height="14.6" fill="#fff" stroke="#d2d2d2" stroke-width="0.4"/>
<rect x="279.95" y="457.20" width="33.90" height="14.799999999999999" fill="url(#gU)"/>
<text x="263.0" y="457.5" font-size="5.4" font-family="DejaVu Sans, sans-serif" text-anchor="middle" fill="#666" stroke="#666" stroke-width="0.1">0</text>
<text x="281.6" y="457.5" font-size="5.4" font-family="DejaVu Sans, sans-serif" text-anchor="middle" fill="#666" stroke="#666" stroke-width="0.1">0</text>
<line x1="257.4" y1="487.0" x2="285.5" y2="487.0" stroke="#a2a2a2" stroke-width="1.3"/>
<rect x="257.5" y="479.6" width="4.0" height="14.6" fill="#fff" stroke="#d2d2d2" stroke-width="0.4"/>
<rect x="257.35" y="479.39" width="4.40" height="14.799999999999999" fill="url(#gC)"/>
<rect x="275.9" y="479.6" width="2.6" height="14.6" fill="#fff" stroke="#d2d2d2" stroke-width="0.4"/>
<rect x="275.75" y="479.39" width="3.00" height="14.799999999999999" fill="url(#gC)"/>
<rect x="280.5" y="479.6" width="4.8" height="14.6" fill="#fff" stroke="#d2d2d2" stroke-width="0.4"/>
<rect x="280.35" y="479.39" width="5.20" height="14.799999999999999" fill="url(#gC)"/>
<text x="263.0" y="479.7" font-size="5.4" font-family="DejaVu Sans, sans-serif" text-anchor="middle" fill="#666" stroke="#666" stroke-width="0.1">0</text>
<text x="280.5" y="479.7" font-size="5.4" font-family="DejaVu Sans, sans-serif" text-anchor="middle" fill="#666" stroke="#666" stroke-width="0.1">0</text>
<text x="286.5" y="479.7" font-size="5.4" font-family="DejaVu Sans, sans-serif" text-anchor="middle" fill="#666" stroke="#666" stroke-width="0.1">1</text>
<line x1="257.2" y1="509.2" x2="315.9" y2="509.2" stroke="#a2a2a2" stroke-width="1.3"/>
<rect x="257.3" y="501.8" width="1.5" height="14.6" fill="#fff" stroke="#d2d2d2" stroke-width="0.4"/>
<rect x="257.15" y="501.58" width="1.90" height="14.799999999999999" fill="url(#gU)"/>
<rect x="259.1" y="501.8" width="4.2" height="14.6" fill="#fff" stroke="#d2d2d2" stroke-width="0.4"/>
<rect x="258.95" y="501.58" width="4.60" height="14.799999999999999" fill="url(#gC)"/>
<rect x="277.9" y="501.8" width="2.2" height="14.6" fill="#fff" stroke="#d2d2d2" stroke-width="0.4"/>
<rect x="277.75" y="501.58" width="2.60" height="14.799999999999999" fill="url(#gC)"/>
<rect x="282.4" y="501.8" width="3.7" height="14.6" fill="#fff" stroke="#d2d2d2" stroke-width="0.4"/>
<rect x="282.25" y="501.58" width="4.10" height="14.799999999999999" fill="url(#gC)"/>
<rect x="286.4" y="501.8" width="29.3" height="14.6" fill="#fff" stroke="#d2d2d2" stroke-width="0.4"/>
<rect x="286.25" y="501.58" width="29.70" height="14.799999999999999" fill="url(#gU)"/>
<text x="265.2" y="501.9" font-size="5.4" font-family="DejaVu Sans, sans-serif" text-anchor="middle" fill="#666" stroke="#666" stroke-width="0.1">0</text>
<text x="282.0" y="501.9" font-size="5.4" font-family="DejaVu Sans, sans-serif" text-anchor="middle" fill="#666" stroke="#666" stroke-width="0.1">0</text>
<text x="288.3" y="501.9" font-size="5.4" font-family="DejaVu Sans, sans-serif" text-anchor="middle" fill="#666" stroke="#666" stroke-width="0.1">1</text>
</g>
<g stroke="#5a5a5a" stroke-width="0.8" fill="none">
<line x1="84" y1="531.8" x2="229.4" y2="531.8"/>
<line x1="84.0" y1="531.8" x2="84.0" y2="536.5999999999999"/>
<line x1="97.2" y1="531.8" x2="97.2" y2="536.5999999999999"/>
<line x1="110.4" y1="531.8" x2="110.4" y2="536.5999999999999"/>
<line x1="123.6" y1="531.8" x2="123.6" y2="536.5999999999999"/>
<line x1="136.8" y1="531.8" x2="136.8" y2="536.5999999999999"/>
<line x1="150.1" y1="531.8" x2="150.1" y2="536.5999999999999"/>
<line x1="163.3" y1="531.8" x2="163.3" y2="536.5999999999999"/>
<line x1="176.5" y1="531.8" x2="176.5" y2="536.5999999999999"/>
<line x1="189.7" y1="531.8" x2="189.7" y2="536.5999999999999"/>
<line x1="202.9" y1="531.8" x2="202.9" y2="536.5999999999999"/>
<line x1="216.1" y1="531.8" x2="216.1" y2="536.5999999999999"/>
<line x1="229.3" y1="531.8" x2="229.3" y2="536.5999999999999"/>
<line x1="258.1" y1="531.8" x2="472.6" y2="531.8"/>
<line x1="258.1" y1="531.8" x2="258.1" y2="536.5999999999999"/>
<line x1="279.5" y1="531.8" x2="279.5" y2="536.5999999999999"/>
<line x1="300.8" y1="531.8" x2="300.8" y2="536.5999999999999"/>
<line x1="322.2" y1="531.8" x2="322.2" y2="536.5999999999999"/>
<line x1="343.6" y1="531.8" x2="343.6" y2="536.5999999999999"/>
<line x1="365.0" y1="531.8" x2="365.0" y2="536.5999999999999"/>
<line x1="386.3" y1="531.8" x2="386.3" y2="536.5999999999999"/>
<line x1="407.7" y1="531.8" x2="407.7" y2="536.5999999999999"/>
<line x1="429.1" y1="531.8" x2="429.1" y2="536.5999999999999"/>
<line x1="450.4" y1="531.8" x2="450.4" y2="536.5999999999999"/>
<line x1="471.8" y1="531.8" x2="471.8" y2="536.5999999999999"/>
</g>
<g font-size="8.2" fill="#2a2a2a" stroke="#2a2a2a" stroke-width="0.15" text-anchor="middle">
<text transform="translate(84.0,545.7) scale(1,1.07)">0</text>
<text transform="translate(97.2,545.7) scale(1,1.07)">30</text>
<text transform="translate(110.4,545.7) scale(1,1.07)">60</text>
<text transform="translate(123.6,545.7) scale(1,1.07)">90</text>
<text transform="translate(136.8,545.7) scale(1,1.07)">120</text>
<text transform="translate(150.1,545.7) scale(1,1.07)">150</text>
<text transform="translate(163.3,545.7) scale(1,1.07)">180</text>
<text transform="translate(176.5,545.7) scale(1,1.07)">210</text>
<text transform="translate(189.7,545.7) scale(1,1.07)">240</text>
<text transform="translate(202.9,545.7) scale(1,1.07)">270</text>
<text transform="translate(216.1,545.7) scale(1,1.07)">300</text>
<text transform="translate(229.3,545.7) scale(1,1.07)">330</text>
<text transform="translate(258.1,545.7) scale(1,1.07)">0</text>
<text transform="translate(279.5,545.7) scale(1,1.07)">1000</text>
<text transform="translate(300.8,545.7) scale(1,1.07)">2000</text>
<text transform="translate(322.2,545.7) scale(1,1.07)">3000</text>
<text transform="translate(343.6,545.7) scale(1,1.07)">4000</text>
<text transform="translate(365.0,545.7) scale(1,1.07)">5000</text>
<text transform="translate(386.3,545.7) scale(1,1.07)">6000</text>
<text transform="translate(407.7,545.7) scale(1,1.07)">7000</text>
<text transform="translate(429.1,545.7) scale(1,1.07)">8000</text>
<text transform="translate(450.4,545.7) scale(1,1.07)">9000</text>
<text transform="translate(474.7,545.7) scale(0.94,1.07)" fill="#111">10,000</text>
</g>
<g font-size="8.2" fill="#2a2a2a" stroke="#2a2a2a" stroke-width="0.15">
<text x="76.3" y="533.4">5'</text><text x="231.5" y="533.4">3'</text>
<text x="250.4" y="533.4">5'</text><text x="474.9" y="533.4">3'</text>
</g>
<g font-size="7.4" fill="#3a3a3a">
<rect x="462.2" y="4.9" width="20.2" height="8.5" fill="#fff" stroke="#d2d2d2" stroke-width="0.6"/>
<rect x="461.90" y="4.60" width="20.80" height="8.8" fill="url(#m10)"/>
<text transform="translate(484.2,10.9) scale(1,1.08)">Motif 10</text>
<rect x="462.2" y="15.6" width="20.2" height="8.5" fill="#fff" stroke="#d2d2d2" stroke-width="0.6"/>
<rect x="461.90" y="15.28" width="20.80" height="8.8" fill="url(#m1)"/>
<text transform="translate(484.2,21.5) scale(1,1.08)">Motif 1</text>
<rect x="462.2" y="26.3" width="20.2" height="8.5" fill="#fff" stroke="#d2d2d2" stroke-width="0.6"/>
<rect x="461.90" y="25.96" width="20.80" height="8.8" fill="url(#m4)"/>
<text transform="translate(484.2,32.0) scale(1,1.08)">Motif 4</text>
<rect x="462.2" y="36.9" width="20.2" height="8.5" fill="#fff" stroke="#d2d2d2" stroke-width="0.6"/>
<rect x="461.90" y="36.64" width="20.80" height="8.8" fill="url(#m2)"/>
<text transform="translate(484.2,42.6) scale(1,1.08)">Motif 2</text>
<rect x="462.2" y="47.6" width="20.2" height="8.5" fill="#fff" stroke="#d2d2d2" stroke-width="0.6"/>
<rect x="461.90" y="47.32" width="20.80" height="8.8" fill="url(#m3)"/>
<text transform="translate(484.2,53.1) scale(1,1.08)">Motif 3</text>
<rect x="462.2" y="58.3" width="20.2" height="8.5" fill="#fff" stroke="#d2d2d2" stroke-width="0.6"/>
<rect x="461.90" y="58.00" width="20.80" height="8.8" fill="url(#m9)"/>
<text transform="translate(484.2,63.6) scale(1,1.08)">Motif 9</text>
<rect x="462.2" y="69.0" width="20.2" height="8.5" fill="#fff" stroke="#d2d2d2" stroke-width="0.6"/>
<rect x="461.90" y="68.68" width="20.80" height="8.8" fill="url(#m5)"/>
<text transform="translate(484.2,74.2) scale(1,1.08)">Motif 5</text>
<rect x="462.2" y="79.7" width="20.2" height="8.5" fill="#fff" stroke="#d2d2d2" stroke-width="0.6"/>
<rect x="461.90" y="79.36" width="20.80" height="8.8" fill="url(#m8)"/>
<text transform="translate(484.2,84.8) scale(1,1.08)">Motif 8</text>
<rect x="462.2" y="90.3" width="20.2" height="8.5" fill="#fff" stroke="#d2d2d2" stroke-width="0.6"/>
<rect x="461.90" y="90.04" width="20.80" height="8.8" fill="url(#m7)"/>
<text transform="translate(484.2,95.3) scale(1,1.08)">Motif 7</text>
<rect x="462.2" y="101.0" width="20.2" height="8.5" fill="#fff" stroke="#d2d2d2" stroke-width="0.6"/>
<rect x="461.90" y="100.72" width="20.80" height="8.8" fill="url(#m6)"/>
<text transform="translate(484.2,105.9) scale(1,1.08)">Motif 6</text>
<rect x="462.2" y="129.3" width="20.3" height="8.4" fill="#fff" stroke="#d2d2d2" stroke-width="0.6"/>
<rect x="461.90" y="129.00" width="20.90" height="8.700000000000001" fill="url(#gU)"/>
<text transform="translate(484.3,134.8) scale(0.95,1.08)">UTR</text>
<rect x="462.2" y="139.8" width="20.3" height="8.6" fill="#fff" stroke="#d2d2d2" stroke-width="0.6"/>
<rect x="461.90" y="139.50" width="20.90" height="8.9" fill="url(#gC)"/>
<text transform="translate(484.3,145.7) scale(0.95,1.08)">CDS</text>
</g>
</svg></body></html>
